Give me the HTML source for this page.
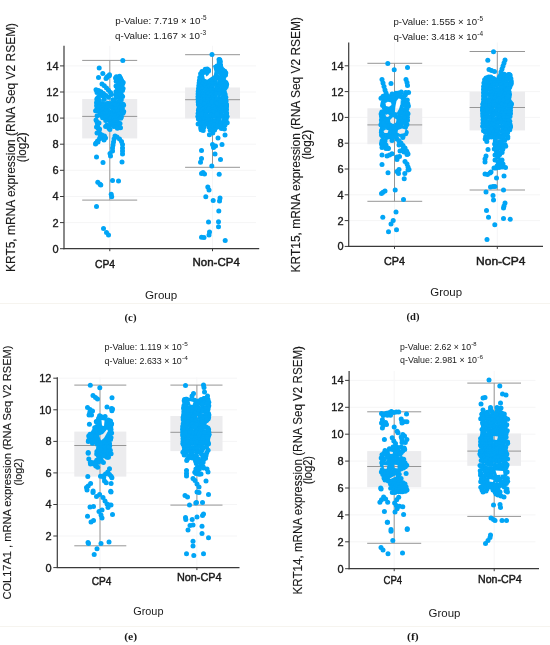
<!DOCTYPE html>
<html><head><meta charset="utf-8"><title>Box plots</title>
<style>html,body{margin:0;padding:0;background:#fff;}svg{display:block;}</style></head>
<body><svg width="550" height="645" viewBox="0 0 550 645">
<rect width="550" height="645" fill="#fff"/>
<line x1="0" y1="303.5" x2="550" y2="303.5" stroke="#f6f4ef" stroke-width="1"/>
<line x1="0" y1="626.5" x2="550" y2="626.5" stroke="#f6f4ef" stroke-width="1"/>
<line x1="65" y1="222.6" x2="256" y2="222.6" stroke="#f5f5f6" stroke-width="1"/>
<line x1="65" y1="196.5" x2="256" y2="196.5" stroke="#f5f5f6" stroke-width="1"/>
<line x1="65" y1="170.3" x2="256" y2="170.3" stroke="#f5f5f6" stroke-width="1"/>
<line x1="65" y1="144.2" x2="256" y2="144.2" stroke="#f5f5f6" stroke-width="1"/>
<line x1="65" y1="118.1" x2="256" y2="118.1" stroke="#f5f5f6" stroke-width="1"/>
<line x1="65" y1="92.0" x2="256" y2="92.0" stroke="#f5f5f6" stroke-width="1"/>
<line x1="65" y1="65.9" x2="256" y2="65.9" stroke="#f5f5f6" stroke-width="1"/>
<line x1="109.8" y1="45.8" x2="109.8" y2="248.7" stroke="#f6f6f7" stroke-width="1"/>
<line x1="212.5" y1="45.8" x2="212.5" y2="248.7" stroke="#f6f6f7" stroke-width="1"/>
<rect x="82.2" y="99.0" width="55.0" height="39.4" fill="#ececee"/>
<line x1="109.8" y1="60.4" x2="109.8" y2="200.1" stroke="#969696" stroke-width="1"/>
<line x1="82.2" y1="60.4" x2="137.2" y2="60.4" stroke="#969696" stroke-width="1"/>
<line x1="82.2" y1="116.4" x2="137.2" y2="116.4" stroke="#969696" stroke-width="1"/>
<line x1="82.2" y1="200.1" x2="137.2" y2="200.1" stroke="#969696" stroke-width="1"/>
<rect x="185.1" y="87.5" width="54.9" height="30.9" fill="#ececee"/>
<line x1="212.5" y1="54.7" x2="212.5" y2="167.3" stroke="#969696" stroke-width="1"/>
<line x1="185.1" y1="54.7" x2="240.0" y2="54.7" stroke="#969696" stroke-width="1"/>
<line x1="185.1" y1="99.7" x2="240.0" y2="99.7" stroke="#969696" stroke-width="1"/>
<line x1="185.1" y1="167.3" x2="240.0" y2="167.3" stroke="#969696" stroke-width="1"/>
<mask id="mc" maskUnits="userSpaceOnUse" x="0" y="0" width="550" height="645"><rect x="0" y="0" width="550" height="645" fill="#fff"/><path fill="#000" d="M204.0,75.0 L205.5,74.5 L206.5,76.8 L211.5,73.2 L210.8,67.2 L213.2,66.5 L214.5,71.5 L213.8,75.2 L207.2,79.8 L204.8,78.8Z"/></mask>
<g fill="#01a5f6" mask="url(#mc)"><circle cx="122.8" cy="60.5" r="2.5"/><circle cx="99.2" cy="68.0" r="2.5"/><circle cx="102.8" cy="73.5" r="2.5"/><circle cx="98.5" cy="77.5" r="2.5"/><circle cx="109.5" cy="74.8" r="2.5"/><circle cx="107.5" cy="76.5" r="2.5"/><circle cx="106.0" cy="78.5" r="2.5"/><circle cx="106.8" cy="77.5" r="2.5"/><circle cx="109.3" cy="75.8" r="2.5"/><circle cx="97.0" cy="122.0" r="2.5"/><circle cx="97.5" cy="125.0" r="2.5"/><circle cx="98.0" cy="128.0" r="2.5"/><circle cx="99.0" cy="131.0" r="2.5"/><circle cx="100.0" cy="134.0" r="2.5"/><circle cx="101.0" cy="136.5" r="2.5"/><circle cx="99.5" cy="139.0" r="2.5"/><circle cx="97.5" cy="141.0" r="2.5"/><circle cx="96.0" cy="143.0" r="2.5"/><circle cx="103.0" cy="137.0" r="2.5"/><circle cx="105.5" cy="138.0" r="2.5"/><circle cx="104.0" cy="140.0" r="2.5"/><circle cx="115.0" cy="136.0" r="2.5"/><circle cx="114.0" cy="139.0" r="2.5"/><circle cx="113.5" cy="142.0" r="2.5"/><circle cx="113.0" cy="145.0" r="2.5"/><circle cx="112.5" cy="148.0" r="2.5"/><circle cx="112.5" cy="151.0" r="2.5"/><circle cx="117.0" cy="137.0" r="2.5"/><circle cx="119.5" cy="139.0" r="2.5"/><circle cx="121.5" cy="141.5" r="2.5"/><circle cx="122.5" cy="144.5" r="2.5"/><circle cx="122.5" cy="148.0" r="2.5"/><circle cx="122.5" cy="151.0" r="2.5"/><circle cx="122.5" cy="154.0" r="2.5"/><circle cx="110.0" cy="153.5" r="2.5"/><circle cx="110.5" cy="156.0" r="2.5"/><circle cx="96.5" cy="157.0" r="2.5"/><circle cx="103.0" cy="162.5" r="2.5"/><circle cx="122.0" cy="162.0" r="2.5"/><circle cx="96.0" cy="120.0" r="2.5"/><circle cx="99.0" cy="123.0" r="2.5"/><circle cx="96.5" cy="127.0" r="2.5"/><circle cx="99.5" cy="129.0" r="2.5"/><circle cx="97.0" cy="133.0" r="2.5"/><circle cx="100.0" cy="137.5" r="2.5"/><circle cx="102.0" cy="135.0" r="2.5"/><circle cx="104.5" cy="136.0" r="2.5"/><circle cx="98.0" cy="142.0" r="2.5"/><circle cx="95.5" cy="144.0" r="2.5"/><circle cx="96.0" cy="89.8" r="2.5"/><circle cx="98.5" cy="90.5" r="2.5"/><circle cx="101.0" cy="91.8" r="2.5"/><circle cx="103.5" cy="93.5" r="2.5"/><circle cx="106.0" cy="95.5" r="2.5"/><circle cx="108.5" cy="97.2" r="2.5"/><circle cx="97.0" cy="92.5" r="2.5"/><circle cx="100.0" cy="94.0" r="2.5"/><circle cx="103.0" cy="96.0" r="2.5"/><circle cx="102.0" cy="84.0" r="2.5"/><circle cx="104.3" cy="85.8" r="2.5"/><circle cx="106.5" cy="88.0" r="2.5"/><circle cx="108.5" cy="90.2" r="2.5"/><circle cx="110.5" cy="92.5" r="2.5"/><circle cx="111.5" cy="94.5" r="2.5"/><circle cx="115.5" cy="78.0" r="2.5"/><circle cx="117.0" cy="81.0" r="2.5"/><circle cx="120.5" cy="78.0" r="2.5"/><circle cx="122.0" cy="81.5" r="2.5"/><circle cx="118.5" cy="84.5" r="2.5"/><circle cx="121.5" cy="86.0" r="2.5"/><circle cx="117.5" cy="88.5" r="2.5"/><circle cx="121.0" cy="90.5" r="2.5"/><circle cx="118.0" cy="93.0" r="2.5"/><circle cx="121.5" cy="95.0" r="2.5"/><circle cx="97.8" cy="182.2" r="2.5"/><circle cx="100.0" cy="184.2" r="2.5"/><circle cx="100.8" cy="185.0" r="2.5"/><circle cx="112.5" cy="180.5" r="2.5"/><circle cx="118.5" cy="181.0" r="2.5"/><circle cx="111.2" cy="194.2" r="2.5"/><circle cx="111.7" cy="196.8" r="2.5"/><circle cx="96.5" cy="206.5" r="2.5"/><circle cx="103.5" cy="228.5" r="2.5"/><circle cx="106.5" cy="232.5" r="2.5"/><circle cx="108.5" cy="235.0" r="2.5"/><circle cx="212.0" cy="54.5" r="2.5"/><circle cx="219.0" cy="59.5" r="2.5"/><circle cx="220.0" cy="62.0" r="2.5"/><circle cx="220.5" cy="65.0" r="2.5"/><circle cx="221.0" cy="67.5" r="2.5"/><circle cx="225.0" cy="135.0" r="2.5"/><circle cx="218.0" cy="138.0" r="2.5"/><circle cx="222.0" cy="144.5" r="2.5"/><circle cx="212.5" cy="144.5" r="2.5"/><circle cx="213.5" cy="147.5" r="2.5"/><circle cx="215.5" cy="146.0" r="2.5"/><circle cx="201.5" cy="150.5" r="2.5"/><circle cx="215.0" cy="154.0" r="2.5"/><circle cx="201.5" cy="158.5" r="2.5"/><circle cx="220.5" cy="159.5" r="2.5"/><circle cx="200.5" cy="162.2" r="2.5"/><circle cx="211.8" cy="166.0" r="2.5"/><circle cx="201.5" cy="173.5" r="2.5"/><circle cx="204.5" cy="174.0" r="2.5"/><circle cx="203.0" cy="172.5" r="2.5"/><circle cx="219.2" cy="174.2" r="2.5"/><circle cx="207.8" cy="187.0" r="2.5"/><circle cx="209.0" cy="190.0" r="2.5"/><circle cx="205.8" cy="196.8" r="2.5"/><circle cx="213.2" cy="200.5" r="2.5"/><circle cx="220.0" cy="198.0" r="2.5"/><circle cx="219.5" cy="201.0" r="2.5"/><circle cx="218.8" cy="211.0" r="2.5"/><circle cx="208.5" cy="222.0" r="2.5"/><circle cx="218.5" cy="221.8" r="2.5"/><circle cx="218.5" cy="226.8" r="2.5"/><circle cx="209.5" cy="232.0" r="2.5"/><circle cx="209.0" cy="235.0" r="2.5"/><circle cx="201.5" cy="237.2" r="2.5"/><circle cx="204.0" cy="237.5" r="2.5"/><circle cx="225.2" cy="240.5" r="2.5"/><circle cx="199.8" cy="77.4" r="2.5"/><circle cx="200.6" cy="73.7" r="2.5"/><circle cx="202.0" cy="71.4" r="2.5"/><circle cx="205.2" cy="69.3" r="2.5"/><circle cx="207.2" cy="68.9" r="2.5"/><circle cx="208.5" cy="70.0" r="2.5"/><circle cx="208.4" cy="71.3" r="2.5"/><circle cx="206.4" cy="73.4" r="2.5"/><circle cx="203.9" cy="75.8" r="2.5"/><circle cx="204.6" cy="78.9" r="2.5"/><circle cx="208.8" cy="79.6" r="2.5"/><circle cx="211.9" cy="78.0" r="2.5"/><circle cx="213.9" cy="76.5" r="2.5"/><circle cx="215.6" cy="73.1" r="2.5"/><circle cx="215.0" cy="68.9" r="2.5"/><circle cx="214.9" cy="67.5" r="2.5"/><circle cx="217.0" cy="66.0" r="2.5"/><circle cx="219.2" cy="61.9" r="2.5"/><circle cx="219.8" cy="59.8" r="2.5"/><circle cx="219.6" cy="60.0" r="2.5"/><circle cx="220.2" cy="61.4" r="2.5"/><circle cx="220.2" cy="65.2" r="2.5"/><circle cx="222.3" cy="69.6" r="2.5"/><circle cx="224.8" cy="71.2" r="2.5"/><circle cx="225.8" cy="73.0" r="2.5"/><circle cx="225.5" cy="75.0" r="2.5"/><circle cx="223.9" cy="76.9" r="2.5"/><circle cx="224.1" cy="81.0" r="2.5"/><circle cx="225.9" cy="82.6" r="2.5"/><circle cx="226.6" cy="84.3" r="2.5"/><circle cx="226.2" cy="86.6" r="2.5"/><circle cx="225.1" cy="88.0" r="2.5"/><circle cx="224.1" cy="91.8" r="2.5"/><circle cx="225.1" cy="94.3" r="2.5"/><circle cx="225.8" cy="97.2" r="2.5"/><circle cx="226.1" cy="100.9" r="2.5"/><circle cx="226.4" cy="104.4" r="2.5"/><circle cx="226.4" cy="104.5" r="2.5"/><circle cx="223.3" cy="104.5" r="2.5"/><circle cx="220.2" cy="104.5" r="2.5"/><circle cx="217.2" cy="104.5" r="2.5"/><circle cx="214.1" cy="104.5" r="2.5"/><circle cx="210.9" cy="104.5" r="2.5"/><circle cx="207.8" cy="104.5" r="2.5"/><circle cx="204.8" cy="104.5" r="2.5"/><circle cx="201.7" cy="104.5" r="2.5"/><circle cx="198.6" cy="104.5" r="2.5"/><circle cx="198.4" cy="104.6" r="2.5"/><circle cx="198.2" cy="101.9" r="2.5"/><circle cx="198.1" cy="99.2" r="2.5"/><circle cx="198.0" cy="96.7" r="2.5"/><circle cx="198.1" cy="94.1" r="2.5"/><circle cx="198.2" cy="91.4" r="2.5"/><circle cx="198.5" cy="88.7" r="2.5"/><circle cx="198.8" cy="85.7" r="2.5"/><circle cx="199.1" cy="82.9" r="2.5"/><circle cx="199.4" cy="80.4" r="2.5"/><circle cx="200.6" cy="106.0" r="2.5"/><circle cx="203.8" cy="106.0" r="2.5"/><circle cx="207.1" cy="106.0" r="2.5"/><circle cx="210.3" cy="106.0" r="2.5"/><circle cx="213.5" cy="106.0" r="2.5"/><circle cx="216.7" cy="106.0" r="2.5"/><circle cx="219.9" cy="106.0" r="2.5"/><circle cx="223.2" cy="106.0" r="2.5"/><circle cx="226.4" cy="106.0" r="2.5"/><circle cx="226.5" cy="106.1" r="2.5"/><circle cx="226.5" cy="109.4" r="2.5"/><circle cx="226.6" cy="112.9" r="2.5"/><circle cx="226.9" cy="116.4" r="2.5"/><circle cx="226.9" cy="116.5" r="2.5"/><circle cx="223.7" cy="116.5" r="2.5"/><circle cx="220.5" cy="116.5" r="2.5"/><circle cx="217.3" cy="116.5" r="2.5"/><circle cx="214.1" cy="116.5" r="2.5"/><circle cx="210.9" cy="116.5" r="2.5"/><circle cx="207.7" cy="116.5" r="2.5"/><circle cx="204.5" cy="116.5" r="2.5"/><circle cx="201.3" cy="116.5" r="2.5"/><circle cx="198.1" cy="116.5" r="2.5"/><circle cx="198.0" cy="116.5" r="2.5"/><circle cx="198.1" cy="113.6" r="2.5"/><circle cx="198.4" cy="110.6" r="2.5"/><circle cx="198.9" cy="108.5" r="2.5"/><circle cx="199.9" cy="106.2" r="2.5"/><circle cx="116.4" cy="76.8" r="2.5"/><circle cx="119.5" cy="76.2" r="2.5"/><circle cx="118.5" cy="78.6" r="2.5"/><circle cx="121.4" cy="80.0" r="2.5"/><circle cx="116.2" cy="81.2" r="2.5"/><circle cx="120.4" cy="82.3" r="2.5"/><circle cx="123.2" cy="82.5" r="2.5"/><circle cx="116.0" cy="85.9" r="2.5"/><circle cx="118.7" cy="84.9" r="2.5"/><circle cx="122.4" cy="84.2" r="2.5"/><circle cx="118.0" cy="87.0" r="2.5"/><circle cx="120.9" cy="87.4" r="2.5"/><circle cx="123.1" cy="88.5" r="2.5"/><circle cx="119.5" cy="90.0" r="2.5"/><circle cx="122.5" cy="90.4" r="2.5"/><circle cx="115.9" cy="91.7" r="2.5"/><circle cx="120.2" cy="91.8" r="2.5"/><circle cx="116.0" cy="94.9" r="2.5"/><circle cx="119.5" cy="94.9" r="2.5"/><circle cx="122.6" cy="96.5" r="2.5"/><circle cx="97.1" cy="98.4" r="2.5"/><circle cx="98.5" cy="97.0" r="2.5"/><circle cx="116.5" cy="97.6" r="2.5"/><circle cx="120.0" cy="98.4" r="2.5"/><circle cx="96.9" cy="99.8" r="2.5"/><circle cx="99.4" cy="100.6" r="2.5"/><circle cx="104.2" cy="99.6" r="2.5"/><circle cx="112.9" cy="99.7" r="2.5"/><circle cx="114.4" cy="100.5" r="2.5"/><circle cx="118.6" cy="101.6" r="2.5"/><circle cx="121.3" cy="99.8" r="2.5"/><circle cx="96.5" cy="102.8" r="2.5"/><circle cx="100.1" cy="104.1" r="2.5"/><circle cx="102.4" cy="103.6" r="2.5"/><circle cx="105.6" cy="104.2" r="2.5"/><circle cx="107.7" cy="103.2" r="2.5"/><circle cx="110.6" cy="103.4" r="2.5"/><circle cx="113.8" cy="103.4" r="2.5"/><circle cx="117.4" cy="103.3" r="2.5"/><circle cx="119.5" cy="103.0" r="2.5"/><circle cx="123.1" cy="104.2" r="2.5"/><circle cx="96.6" cy="105.7" r="2.5"/><circle cx="100.0" cy="105.0" r="2.5"/><circle cx="102.6" cy="106.0" r="2.5"/><circle cx="107.1" cy="106.5" r="2.5"/><circle cx="109.6" cy="106.1" r="2.5"/><circle cx="112.1" cy="105.2" r="2.5"/><circle cx="115.1" cy="105.0" r="2.5"/><circle cx="118.5" cy="105.3" r="2.5"/><circle cx="121.5" cy="105.5" r="2.5"/><circle cx="123.6" cy="105.3" r="2.5"/><circle cx="97.0" cy="108.7" r="2.5"/><circle cx="98.9" cy="107.3" r="2.5"/><circle cx="102.1" cy="108.3" r="2.5"/><circle cx="104.4" cy="109.3" r="2.5"/><circle cx="107.4" cy="107.6" r="2.5"/><circle cx="111.7" cy="107.6" r="2.5"/><circle cx="114.1" cy="109.0" r="2.5"/><circle cx="116.0" cy="108.5" r="2.5"/><circle cx="119.6" cy="108.1" r="2.5"/><circle cx="122.3" cy="108.3" r="2.5"/><circle cx="95.6" cy="110.8" r="2.5"/><circle cx="98.3" cy="110.9" r="2.5"/><circle cx="101.6" cy="111.2" r="2.5"/><circle cx="103.3" cy="110.1" r="2.5"/><circle cx="106.0" cy="110.8" r="2.5"/><circle cx="108.9" cy="111.3" r="2.5"/><circle cx="113.1" cy="111.1" r="2.5"/><circle cx="115.0" cy="111.4" r="2.5"/><circle cx="118.1" cy="111.4" r="2.5"/><circle cx="121.7" cy="111.5" r="2.5"/><circle cx="123.7" cy="111.5" r="2.5"/><circle cx="100.1" cy="112.9" r="2.5"/><circle cx="103.0" cy="113.3" r="2.5"/><circle cx="104.7" cy="113.8" r="2.5"/><circle cx="107.5" cy="113.1" r="2.5"/><circle cx="110.7" cy="113.8" r="2.5"/><circle cx="114.7" cy="114.5" r="2.5"/><circle cx="116.8" cy="114.7" r="2.5"/><circle cx="119.2" cy="113.8" r="2.5"/><circle cx="123.0" cy="113.2" r="2.5"/><circle cx="97.1" cy="115.8" r="2.5"/><circle cx="101.2" cy="115.6" r="2.5"/><circle cx="104.5" cy="117.2" r="2.5"/><circle cx="107.5" cy="116.1" r="2.5"/><circle cx="108.7" cy="116.3" r="2.5"/><circle cx="111.7" cy="115.3" r="2.5"/><circle cx="115.3" cy="116.0" r="2.5"/><circle cx="118.2" cy="116.8" r="2.5"/><circle cx="121.4" cy="116.7" r="2.5"/><circle cx="102.6" cy="117.7" r="2.5"/><circle cx="105.5" cy="117.9" r="2.5"/><circle cx="107.4" cy="119.7" r="2.5"/><circle cx="110.6" cy="118.3" r="2.5"/><circle cx="113.7" cy="118.2" r="2.5"/><circle cx="117.2" cy="119.8" r="2.5"/><circle cx="120.8" cy="118.3" r="2.5"/><circle cx="105.7" cy="120.6" r="2.5"/><circle cx="110.4" cy="121.7" r="2.5"/><circle cx="113.5" cy="121.5" r="2.5"/><circle cx="115.4" cy="120.5" r="2.5"/><circle cx="117.8" cy="122.4" r="2.5"/><circle cx="107.0" cy="125.1" r="2.5"/><circle cx="111.6" cy="123.7" r="2.5"/><circle cx="113.6" cy="124.9" r="2.5"/><circle cx="116.7" cy="124.6" r="2.5"/><circle cx="120.0" cy="123.5" r="2.5"/><circle cx="105.6" cy="126.4" r="2.5"/><circle cx="108.7" cy="126.8" r="2.5"/><circle cx="113.5" cy="126.6" r="2.5"/><circle cx="116.3" cy="126.7" r="2.5"/><circle cx="119.1" cy="126.7" r="2.5"/><circle cx="120.5" cy="127.7" r="2.5"/><circle cx="108.9" cy="128.2" r="2.5"/><circle cx="109.9" cy="129.5" r="2.5"/><circle cx="117.4" cy="128.2" r="2.5"/><circle cx="216.4" cy="66.8" r="2.5"/><circle cx="219.0" cy="64.8" r="2.5"/><circle cx="218.2" cy="69.2" r="2.5"/><circle cx="219.5" cy="69.3" r="2.5"/><circle cx="205.0" cy="71.0" r="2.5"/><circle cx="207.5" cy="70.9" r="2.5"/><circle cx="216.7" cy="71.8" r="2.5"/><circle cx="219.1" cy="70.9" r="2.5"/><circle cx="223.0" cy="70.2" r="2.5"/><circle cx="203.0" cy="73.4" r="2.5"/><circle cx="206.1" cy="72.7" r="2.5"/><circle cx="217.2" cy="72.6" r="2.5"/><circle cx="220.7" cy="73.5" r="2.5"/><circle cx="222.9" cy="74.6" r="2.5"/><circle cx="201.6" cy="76.7" r="2.5"/><circle cx="204.1" cy="75.3" r="2.5"/><circle cx="216.2" cy="77.3" r="2.5"/><circle cx="217.9" cy="76.9" r="2.5"/><circle cx="222.1" cy="76.5" r="2.5"/><circle cx="203.4" cy="78.7" r="2.5"/><circle cx="211.7" cy="79.4" r="2.5"/><circle cx="213.4" cy="78.8" r="2.5"/><circle cx="217.8" cy="77.9" r="2.5"/><circle cx="221.2" cy="77.9" r="2.5"/><circle cx="200.7" cy="81.9" r="2.5"/><circle cx="203.8" cy="81.1" r="2.5"/><circle cx="206.1" cy="82.5" r="2.5"/><circle cx="210.0" cy="81.0" r="2.5"/><circle cx="213.9" cy="81.8" r="2.5"/><circle cx="215.4" cy="81.7" r="2.5"/><circle cx="220.0" cy="81.0" r="2.5"/><circle cx="222.8" cy="80.4" r="2.5"/><circle cx="224.0" cy="82.2" r="2.5"/><circle cx="202.4" cy="84.3" r="2.5"/><circle cx="205.7" cy="85.2" r="2.5"/><circle cx="209.0" cy="85.1" r="2.5"/><circle cx="211.9" cy="83.4" r="2.5"/><circle cx="215.6" cy="83.8" r="2.5"/><circle cx="218.0" cy="84.8" r="2.5"/><circle cx="221.1" cy="83.7" r="2.5"/><circle cx="222.7" cy="83.7" r="2.5"/><circle cx="226.1" cy="84.8" r="2.5"/><circle cx="200.4" cy="86.7" r="2.5"/><circle cx="203.9" cy="87.6" r="2.5"/><circle cx="207.6" cy="87.3" r="2.5"/><circle cx="209.9" cy="86.1" r="2.5"/><circle cx="212.2" cy="87.1" r="2.5"/><circle cx="216.6" cy="85.7" r="2.5"/><circle cx="218.6" cy="86.8" r="2.5"/><circle cx="223.0" cy="86.3" r="2.5"/><circle cx="225.5" cy="85.9" r="2.5"/><circle cx="199.0" cy="88.7" r="2.5"/><circle cx="202.0" cy="88.7" r="2.5"/><circle cx="205.9" cy="89.4" r="2.5"/><circle cx="208.7" cy="90.4" r="2.5"/><circle cx="211.2" cy="89.4" r="2.5"/><circle cx="214.6" cy="89.8" r="2.5"/><circle cx="217.2" cy="88.7" r="2.5"/><circle cx="220.9" cy="89.7" r="2.5"/><circle cx="223.5" cy="88.9" r="2.5"/><circle cx="202.0" cy="92.3" r="2.5"/><circle cx="203.5" cy="92.9" r="2.5"/><circle cx="207.4" cy="92.4" r="2.5"/><circle cx="210.1" cy="93.0" r="2.5"/><circle cx="212.6" cy="92.9" r="2.5"/><circle cx="216.3" cy="92.8" r="2.5"/><circle cx="219.1" cy="91.2" r="2.5"/><circle cx="222.5" cy="91.2" r="2.5"/><circle cx="224.0" cy="91.5" r="2.5"/><circle cx="199.9" cy="93.5" r="2.5"/><circle cx="203.2" cy="93.8" r="2.5"/><circle cx="205.0" cy="94.6" r="2.5"/><circle cx="208.2" cy="94.0" r="2.5"/><circle cx="211.3" cy="95.0" r="2.5"/><circle cx="215.4" cy="94.5" r="2.5"/><circle cx="216.5" cy="93.6" r="2.5"/><circle cx="219.5" cy="93.7" r="2.5"/><circle cx="223.4" cy="94.4" r="2.5"/><circle cx="198.8" cy="97.3" r="2.5"/><circle cx="200.0" cy="96.5" r="2.5"/><circle cx="203.0" cy="97.2" r="2.5"/><circle cx="207.4" cy="97.0" r="2.5"/><circle cx="208.9" cy="97.6" r="2.5"/><circle cx="213.1" cy="96.7" r="2.5"/><circle cx="215.0" cy="97.6" r="2.5"/><circle cx="218.9" cy="98.2" r="2.5"/><circle cx="222.4" cy="97.7" r="2.5"/><circle cx="225.6" cy="97.9" r="2.5"/><circle cx="198.7" cy="99.3" r="2.5"/><circle cx="201.7" cy="99.2" r="2.5"/><circle cx="204.5" cy="99.4" r="2.5"/><circle cx="207.5" cy="99.6" r="2.5"/><circle cx="211.8" cy="99.3" r="2.5"/><circle cx="213.4" cy="99.7" r="2.5"/><circle cx="217.0" cy="99.0" r="2.5"/><circle cx="220.0" cy="100.5" r="2.5"/><circle cx="222.8" cy="99.2" r="2.5"/><circle cx="201.9" cy="101.6" r="2.5"/><circle cx="204.8" cy="102.0" r="2.5"/><circle cx="207.8" cy="101.4" r="2.5"/><circle cx="210.2" cy="102.3" r="2.5"/><circle cx="212.0" cy="102.0" r="2.5"/><circle cx="216.0" cy="103.3" r="2.5"/><circle cx="218.1" cy="102.5" r="2.5"/><circle cx="221.2" cy="101.3" r="2.5"/><circle cx="224.9" cy="101.6" r="2.5"/><circle cx="204.4" cy="104.0" r="2.5"/><circle cx="216.6" cy="104.0" r="2.5"/><circle cx="201.3" cy="107.9" r="2.5"/><circle cx="205.0" cy="106.7" r="2.5"/><circle cx="206.3" cy="108.0" r="2.5"/><circle cx="210.2" cy="106.5" r="2.5"/><circle cx="213.4" cy="106.8" r="2.5"/><circle cx="216.4" cy="107.9" r="2.5"/><circle cx="219.4" cy="108.2" r="2.5"/><circle cx="221.4" cy="107.8" r="2.5"/><circle cx="226.0" cy="107.6" r="2.5"/><circle cx="199.0" cy="109.2" r="2.5"/><circle cx="203.0" cy="109.3" r="2.5"/><circle cx="206.4" cy="109.7" r="2.5"/><circle cx="208.8" cy="109.0" r="2.5"/><circle cx="211.7" cy="110.1" r="2.5"/><circle cx="214.9" cy="108.9" r="2.5"/><circle cx="218.3" cy="109.4" r="2.5"/><circle cx="220.1" cy="110.7" r="2.5"/><circle cx="223.4" cy="108.9" r="2.5"/><circle cx="225.7" cy="110.6" r="2.5"/><circle cx="201.2" cy="112.2" r="2.5"/><circle cx="204.0" cy="112.8" r="2.5"/><circle cx="206.8" cy="111.5" r="2.5"/><circle cx="210.8" cy="112.7" r="2.5"/><circle cx="213.6" cy="111.7" r="2.5"/><circle cx="216.8" cy="112.5" r="2.5"/><circle cx="218.8" cy="113.3" r="2.5"/><circle cx="221.3" cy="113.1" r="2.5"/><circle cx="225.3" cy="111.6" r="2.5"/><circle cx="198.9" cy="115.2" r="2.5"/><circle cx="202.1" cy="113.9" r="2.5"/><circle cx="206.1" cy="114.5" r="2.5"/><circle cx="207.9" cy="115.8" r="2.5"/><circle cx="211.4" cy="115.1" r="2.5"/><circle cx="214.0" cy="115.4" r="2.5"/><circle cx="217.2" cy="114.0" r="2.5"/><circle cx="221.5" cy="115.4" r="2.5"/><circle cx="222.4" cy="115.5" r="2.5"/><circle cx="226.4" cy="114.1" r="2.5"/><circle cx="198.4" cy="119.0" r="2.5"/><circle cx="201.6" cy="119.5" r="2.5"/><circle cx="204.2" cy="119.5" r="2.5"/><circle cx="208.1" cy="119.4" r="2.5"/><circle cx="209.5" cy="119.9" r="2.5"/><circle cx="212.4" cy="120.5" r="2.5"/><circle cx="216.8" cy="119.8" r="2.5"/><circle cx="218.8" cy="119.6" r="2.5"/><circle cx="223.7" cy="120.2" r="2.5"/><circle cx="226.1" cy="119.6" r="2.5"/><circle cx="200.2" cy="121.3" r="2.5"/><circle cx="201.7" cy="122.7" r="2.5"/><circle cx="205.8" cy="122.3" r="2.5"/><circle cx="209.9" cy="122.9" r="2.5"/><circle cx="211.6" cy="123.4" r="2.5"/><circle cx="214.5" cy="121.4" r="2.5"/><circle cx="218.0" cy="122.8" r="2.5"/><circle cx="221.0" cy="123.1" r="2.5"/><circle cx="224.8" cy="122.1" r="2.5"/><circle cx="227.2" cy="122.7" r="2.5"/><circle cx="198.1" cy="123.9" r="2.5"/><circle cx="200.5" cy="124.2" r="2.5"/><circle cx="203.5" cy="124.7" r="2.5"/><circle cx="207.0" cy="124.3" r="2.5"/><circle cx="209.5" cy="125.7" r="2.5"/><circle cx="214.4" cy="125.1" r="2.5"/><circle cx="217.8" cy="126.2" r="2.5"/><circle cx="220.9" cy="125.7" r="2.5"/><circle cx="223.6" cy="125.3" r="2.5"/><circle cx="225.0" cy="125.0" r="2.5"/><circle cx="200.7" cy="127.7" r="2.5"/><circle cx="203.8" cy="127.2" r="2.5"/><circle cx="209.0" cy="127.0" r="2.5"/><circle cx="212.7" cy="127.2" r="2.5"/><circle cx="216.2" cy="127.2" r="2.5"/><circle cx="217.4" cy="127.0" r="2.5"/><circle cx="221.4" cy="128.5" r="2.5"/><circle cx="224.4" cy="128.9" r="2.5"/><circle cx="201.1" cy="129.7" r="2.5"/><circle cx="203.2" cy="130.4" r="2.5"/><circle cx="210.2" cy="130.2" r="2.5"/><circle cx="214.6" cy="129.9" r="2.5"/><circle cx="212.8" cy="132.9" r="2.5"/><circle cx="209.4" cy="134.7" r="2.5"/></g>
<line x1="64" y1="45.8" x2="64" y2="249.2" stroke="#3a3a3a" stroke-width="1.2"/>
<line x1="63.4" y1="248.7" x2="259.2" y2="248.7" stroke="#3a3a3a" stroke-width="1.2"/>
<line x1="60" y1="248.7" x2="64" y2="248.7" stroke="#3a3a3a" stroke-width="1"/>
<text x="58.6" y="252.6" font-family="Liberation Sans, sans-serif" font-size="11" font-weight="normal" text-anchor="end" fill="#1a1a1a" stroke="#1a1a1a" stroke-width="0.35">0</text>
<line x1="60" y1="222.6" x2="64" y2="222.6" stroke="#3a3a3a" stroke-width="1"/>
<text x="58.6" y="226.5" font-family="Liberation Sans, sans-serif" font-size="11" font-weight="normal" text-anchor="end" fill="#1a1a1a" stroke="#1a1a1a" stroke-width="0.35">2</text>
<line x1="60" y1="196.5" x2="64" y2="196.5" stroke="#3a3a3a" stroke-width="1"/>
<text x="58.6" y="200.4" font-family="Liberation Sans, sans-serif" font-size="11" font-weight="normal" text-anchor="end" fill="#1a1a1a" stroke="#1a1a1a" stroke-width="0.35">4</text>
<line x1="60" y1="170.3" x2="64" y2="170.3" stroke="#3a3a3a" stroke-width="1"/>
<text x="58.6" y="174.2" font-family="Liberation Sans, sans-serif" font-size="11" font-weight="normal" text-anchor="end" fill="#1a1a1a" stroke="#1a1a1a" stroke-width="0.35">6</text>
<line x1="60" y1="144.2" x2="64" y2="144.2" stroke="#3a3a3a" stroke-width="1"/>
<text x="58.6" y="148.1" font-family="Liberation Sans, sans-serif" font-size="11" font-weight="normal" text-anchor="end" fill="#1a1a1a" stroke="#1a1a1a" stroke-width="0.35">8</text>
<line x1="60" y1="118.1" x2="64" y2="118.1" stroke="#3a3a3a" stroke-width="1"/>
<text x="58.6" y="122.0" font-family="Liberation Sans, sans-serif" font-size="11" font-weight="normal" text-anchor="end" fill="#1a1a1a" stroke="#1a1a1a" stroke-width="0.35">10</text>
<line x1="60" y1="92.0" x2="64" y2="92.0" stroke="#3a3a3a" stroke-width="1"/>
<text x="58.6" y="95.9" font-family="Liberation Sans, sans-serif" font-size="11" font-weight="normal" text-anchor="end" fill="#1a1a1a" stroke="#1a1a1a" stroke-width="0.35">12</text>
<line x1="60" y1="65.9" x2="64" y2="65.9" stroke="#3a3a3a" stroke-width="1"/>
<text x="58.6" y="69.8" font-family="Liberation Sans, sans-serif" font-size="11" font-weight="normal" text-anchor="end" fill="#1a1a1a" stroke="#1a1a1a" stroke-width="0.35">14</text>
<line x1="109.8" y1="248.7" x2="109.8" y2="251.2" stroke="#3a3a3a" stroke-width="1"/>
<line x1="212.5" y1="248.7" x2="212.5" y2="251.2" stroke="#3a3a3a" stroke-width="1"/>
<text x="95.0" y="267.5" font-family="Liberation Sans, sans-serif" font-size="11.3" font-weight="normal" text-anchor="start" fill="#1a1a1a" textLength="20.1" lengthAdjust="spacingAndGlyphs" stroke="#1a1a1a" stroke-width="0.45">CP4</text>
<text x="192.5" y="265.5" font-family="Liberation Sans, sans-serif" font-size="11.3" font-weight="normal" text-anchor="start" fill="#1a1a1a" textLength="47.3" lengthAdjust="spacingAndGlyphs" stroke="#1a1a1a" stroke-width="0.45">Non-CP4</text>
<text x="145.0" y="298.8" font-family="Liberation Sans, sans-serif" font-size="11.5" font-weight="normal" text-anchor="start" fill="#1a1a1a" textLength="32.3" lengthAdjust="spacingAndGlyphs">Group</text>
<text x="124.5" y="321.0" font-family="Liberation Serif, sans-serif" font-size="10.5" font-weight="bold" text-anchor="start" fill="#1a1a1a" textLength="12.0" lengthAdjust="spacingAndGlyphs">(c)</text>
<text x="115.3" y="24.1" font-family="Liberation Sans, sans-serif" font-size="9" font-weight="normal" text-anchor="start" fill="#1a1a1a" textLength="85.2" lengthAdjust="spacingAndGlyphs">p-Value: 7.719 × 10</text>
<text x="200.8" y="20.1" font-family="Liberation Sans, sans-serif" font-size="6.3" font-weight="normal" text-anchor="start" fill="#1a1a1a" textLength="5.7" lengthAdjust="spacingAndGlyphs">-5</text>
<text x="115.0" y="38.6" font-family="Liberation Sans, sans-serif" font-size="9" font-weight="normal" text-anchor="start" fill="#1a1a1a" textLength="85.0" lengthAdjust="spacingAndGlyphs">q-Value: 1.167 × 10</text>
<text x="200.3" y="34.6" font-family="Liberation Sans, sans-serif" font-size="6.3" font-weight="normal" text-anchor="start" fill="#1a1a1a" textLength="5.8" lengthAdjust="spacingAndGlyphs">-3</text>
<text transform="translate(14.7,272) rotate(-90)" x="0" y="0" font-family="Liberation Sans, sans-serif" font-size="12" fill="#1a1a1a" stroke="#1a1a1a" stroke-width="0.15" textLength="249.1" lengthAdjust="spacingAndGlyphs">KRT5, mRNA expression (RNA Seq V2 RSEM)</text>
<text transform="translate(26,162.2) rotate(-90)" x="0" y="0" font-family="Liberation Sans, sans-serif" font-size="12" fill="#1a1a1a" stroke="#1a1a1a" stroke-width="0.15" textLength="29.8" lengthAdjust="spacingAndGlyphs">(log2)</text>
<line x1="349.7" y1="220.6" x2="540" y2="220.6" stroke="#f5f5f6" stroke-width="1"/>
<line x1="349.7" y1="194.8" x2="540" y2="194.8" stroke="#f5f5f6" stroke-width="1"/>
<line x1="349.7" y1="169.0" x2="540" y2="169.0" stroke="#f5f5f6" stroke-width="1"/>
<line x1="349.7" y1="143.2" x2="540" y2="143.2" stroke="#f5f5f6" stroke-width="1"/>
<line x1="349.7" y1="117.4" x2="540" y2="117.4" stroke="#f5f5f6" stroke-width="1"/>
<line x1="349.7" y1="91.6" x2="540" y2="91.6" stroke="#f5f5f6" stroke-width="1"/>
<line x1="349.7" y1="65.8" x2="540" y2="65.8" stroke="#f5f5f6" stroke-width="1"/>
<line x1="394.5" y1="42.4" x2="394.5" y2="246.4" stroke="#f6f6f7" stroke-width="1"/>
<line x1="497.3" y1="42.4" x2="497.3" y2="246.4" stroke="#f6f6f7" stroke-width="1"/>
<rect x="367.4" y="108.3" width="54.8" height="35.9" fill="#ececee"/>
<line x1="394.5" y1="63.3" x2="394.5" y2="201.3" stroke="#969696" stroke-width="1"/>
<line x1="367.4" y1="63.3" x2="422.2" y2="63.3" stroke="#969696" stroke-width="1"/>
<line x1="367.4" y1="124.9" x2="422.2" y2="124.9" stroke="#969696" stroke-width="1"/>
<line x1="367.4" y1="201.3" x2="422.2" y2="201.3" stroke="#969696" stroke-width="1"/>
<rect x="469.6" y="91.8" width="55.4" height="38.6" fill="#ececee"/>
<line x1="497.3" y1="51.5" x2="497.3" y2="190.0" stroke="#969696" stroke-width="1"/>
<line x1="469.6" y1="51.5" x2="525.0" y2="51.5" stroke="#969696" stroke-width="1"/>
<line x1="469.6" y1="107.5" x2="525.0" y2="107.5" stroke="#969696" stroke-width="1"/>
<line x1="469.6" y1="190.0" x2="525.0" y2="190.0" stroke="#969696" stroke-width="1"/>
<mask id="md" maskUnits="userSpaceOnUse" x="0" y="0" width="550" height="645"><rect x="0" y="0" width="550" height="645" fill="#fff"/><path fill="#000" d="M394.8,112.0 L395.5,106.0 L396.5,101.0 L398.5,98.5 L400.8,99.0 L400.5,104.0 L399.0,109.0 L397.0,112.5Z"/><path fill="#000" d="M385.5,103.0 L388.0,101.8 L391.0,102.5 L391.5,105.0 L389.0,106.8 L386.0,106.0Z"/><path fill="#000" d="M390.0,120.0 L393.0,117.0 L396.5,119.5 L396.0,122.5 L393.0,124.0 L390.5,122.5Z"/><path fill="#000" d="M385.7,115.0 L388.0,114.0 L389.5,115.5 L388.0,117.0 L386.0,116.5Z"/><path fill="#000" d="M383.5,131.0 L386.0,129.5 L388.5,130.5 L387.5,133.0 L384.5,133.0Z"/><path fill="#000" d="M398.0,130.0 L402.0,128.5 L405.5,129.5 L404.5,133.0 L400.0,134.0 L397.5,132.5Z"/></mask>
<g fill="#01a5f6" mask="url(#md)"><circle cx="387.8" cy="63.5" r="2.5"/><circle cx="394.2" cy="69.8" r="2.5"/><circle cx="407.5" cy="67.5" r="2.5"/><circle cx="382.0" cy="79.5" r="2.5"/><circle cx="383.0" cy="83.0" r="2.5"/><circle cx="384.0" cy="86.5" r="2.5"/><circle cx="385.0" cy="90.0" r="2.5"/><circle cx="386.0" cy="93.0" r="2.5"/><circle cx="391.0" cy="83.5" r="2.5"/><circle cx="406.0" cy="79.5" r="2.5"/><circle cx="407.0" cy="82.5" r="2.5"/><circle cx="407.5" cy="85.5" r="2.5"/><circle cx="382.0" cy="141.0" r="2.5"/><circle cx="385.0" cy="141.0" r="2.5"/><circle cx="381.5" cy="144.0" r="2.5"/><circle cx="384.5" cy="144.5" r="2.5"/><circle cx="382.0" cy="147.5" r="2.5"/><circle cx="386.0" cy="148.5" r="2.5"/><circle cx="388.4" cy="148.6" r="2.5"/><circle cx="392.0" cy="140.5" r="2.5"/><circle cx="397.0" cy="139.0" r="2.5"/><circle cx="399.0" cy="141.0" r="2.5"/><circle cx="401.0" cy="143.0" r="2.5"/><circle cx="403.0" cy="145.5" r="2.5"/><circle cx="405.0" cy="148.0" r="2.5"/><circle cx="406.5" cy="151.0" r="2.5"/><circle cx="408.0" cy="154.0" r="2.5"/><circle cx="400.0" cy="144.0" r="2.5"/><circle cx="382.0" cy="142.5" r="2.5"/><circle cx="386.0" cy="145.0" r="2.5"/><circle cx="388.0" cy="148.0" r="2.5"/><circle cx="399.0" cy="145.0" r="2.5"/><circle cx="403.0" cy="149.0" r="2.5"/><circle cx="400.0" cy="151.0" r="2.5"/><circle cx="404.0" cy="152.0" r="2.5"/><circle cx="407.0" cy="152.0" r="2.5"/><circle cx="407.0" cy="154.5" r="2.5"/><circle cx="382.0" cy="155.0" r="2.5"/><circle cx="387.0" cy="156.0" r="2.5"/><circle cx="389.5" cy="155.0" r="2.5"/><circle cx="392.0" cy="153.8" r="2.5"/><circle cx="397.0" cy="157.0" r="2.5"/><circle cx="399.5" cy="156.5" r="2.5"/><circle cx="397.0" cy="159.5" r="2.5"/><circle cx="405.0" cy="161.5" r="2.5"/><circle cx="407.0" cy="164.0" r="2.5"/><circle cx="408.0" cy="167.0" r="2.5"/><circle cx="409.0" cy="169.5" r="2.5"/><circle cx="382.0" cy="164.5" r="2.5"/><circle cx="399.0" cy="169.5" r="2.5"/><circle cx="388.0" cy="172.8" r="2.5"/><circle cx="397.0" cy="171.5" r="2.5"/><circle cx="398.5" cy="173.5" r="2.5"/><circle cx="404.8" cy="173.5" r="2.5"/><circle cx="404.2" cy="178.8" r="2.5"/><circle cx="408.0" cy="170.0" r="2.5"/><circle cx="385.0" cy="191.0" r="2.5"/><circle cx="381.5" cy="193.5" r="2.5"/><circle cx="383.0" cy="192.2" r="2.5"/><circle cx="395.2" cy="190.0" r="2.5"/><circle cx="403.5" cy="199.5" r="2.5"/><circle cx="396.0" cy="212.0" r="2.5"/><circle cx="382.8" cy="217.2" r="2.5"/><circle cx="393.2" cy="220.5" r="2.5"/><circle cx="391.0" cy="224.0" r="2.5"/><circle cx="388.5" cy="231.8" r="2.5"/><circle cx="396.5" cy="229.8" r="2.5"/><circle cx="493.5" cy="51.8" r="2.5"/><circle cx="487.8" cy="60.2" r="2.5"/><circle cx="505.0" cy="60.0" r="2.5"/><circle cx="504.0" cy="63.0" r="2.5"/><circle cx="503.0" cy="66.0" r="2.5"/><circle cx="502.0" cy="69.0" r="2.5"/><circle cx="501.0" cy="72.0" r="2.5"/><circle cx="489.0" cy="69.5" r="2.5"/><circle cx="491.5" cy="70.5" r="2.5"/><circle cx="494.5" cy="71.5" r="2.5"/><circle cx="509.0" cy="74.5" r="2.5"/><circle cx="510.0" cy="75.0" r="2.5"/><circle cx="488.0" cy="149.5" r="2.5"/><circle cx="486.0" cy="156.0" r="2.5"/><circle cx="495.0" cy="155.0" r="2.5"/><circle cx="498.0" cy="156.0" r="2.5"/><circle cx="485.0" cy="159.0" r="2.5"/><circle cx="485.0" cy="162.0" r="2.5"/><circle cx="495.0" cy="160.0" r="2.5"/><circle cx="498.0" cy="162.0" r="2.5"/><circle cx="500.0" cy="161.0" r="2.5"/><circle cx="502.0" cy="160.0" r="2.5"/><circle cx="503.0" cy="164.0" r="2.5"/><circle cx="500.0" cy="165.0" r="2.5"/><circle cx="497.0" cy="166.0" r="2.5"/><circle cx="494.0" cy="168.0" r="2.5"/><circle cx="496.0" cy="168.0" r="2.5"/><circle cx="499.0" cy="167.5" r="2.5"/><circle cx="502.0" cy="167.0" r="2.5"/><circle cx="505.5" cy="167.5" r="2.5"/><circle cx="485.0" cy="174.0" r="2.5"/><circle cx="487.5" cy="174.5" r="2.5"/><circle cx="490.0" cy="173.0" r="2.5"/><circle cx="491.0" cy="172.0" r="2.5"/><circle cx="496.5" cy="178.0" r="2.5"/><circle cx="504.0" cy="176.0" r="2.5"/><circle cx="490.5" cy="187.0" r="2.5"/><circle cx="493.0" cy="186.5" r="2.5"/><circle cx="495.0" cy="186.5" r="2.5"/><circle cx="486.0" cy="192.0" r="2.5"/><circle cx="503.5" cy="190.0" r="2.5"/><circle cx="493.0" cy="195.5" r="2.5"/><circle cx="493.5" cy="200.0" r="2.5"/><circle cx="505.0" cy="203.0" r="2.5"/><circle cx="504.0" cy="206.0" r="2.5"/><circle cx="503.5" cy="208.0" r="2.5"/><circle cx="486.5" cy="210.5" r="2.5"/><circle cx="488.5" cy="217.2" r="2.5"/><circle cx="503.5" cy="218.5" r="2.5"/><circle cx="510.2" cy="219.2" r="2.5"/><circle cx="494.8" cy="224.8" r="2.5"/><circle cx="487.0" cy="239.5" r="2.5"/><circle cx="483.5" cy="102.4" r="2.5"/><circle cx="483.5" cy="99.2" r="2.5"/><circle cx="483.5" cy="96.0" r="2.5"/><circle cx="483.5" cy="92.8" r="2.5"/><circle cx="483.5" cy="89.6" r="2.5"/><circle cx="483.6" cy="86.4" r="2.5"/><circle cx="483.9" cy="82.9" r="2.5"/><circle cx="484.6" cy="79.8" r="2.5"/><circle cx="486.0" cy="78.0" r="2.5"/><circle cx="488.7" cy="76.9" r="2.5"/><circle cx="490.8" cy="77.1" r="2.5"/><circle cx="493.5" cy="78.5" r="2.5"/><circle cx="495.4" cy="79.7" r="2.5"/><circle cx="499.2" cy="77.2" r="2.5"/><circle cx="500.5" cy="75.0" r="2.5"/><circle cx="502.7" cy="74.2" r="2.5"/><circle cx="504.3" cy="74.3" r="2.5"/><circle cx="508.2" cy="74.7" r="2.5"/><circle cx="509.8" cy="75.3" r="2.5"/><circle cx="510.8" cy="78.2" r="2.5"/><circle cx="511.3" cy="81.7" r="2.5"/><circle cx="511.1" cy="84.0" r="2.5"/><circle cx="509.7" cy="87.3" r="2.5"/><circle cx="509.1" cy="92.0" r="2.5"/><circle cx="509.5" cy="94.5" r="2.5"/><circle cx="509.1" cy="97.0" r="2.5"/><circle cx="509.1" cy="100.8" r="2.5"/><circle cx="510.1" cy="103.3" r="2.5"/><circle cx="510.3" cy="102.5" r="2.5"/><circle cx="507.0" cy="102.5" r="2.5"/><circle cx="503.7" cy="102.5" r="2.5"/><circle cx="500.3" cy="102.5" r="2.5"/><circle cx="497.0" cy="102.5" r="2.5"/><circle cx="493.7" cy="102.5" r="2.5"/><circle cx="490.3" cy="102.5" r="2.5"/><circle cx="487.0" cy="102.5" r="2.5"/><circle cx="483.7" cy="102.5" r="2.5"/><circle cx="483.1" cy="104.0" r="2.5"/><circle cx="486.2" cy="104.0" r="2.5"/><circle cx="489.4" cy="104.0" r="2.5"/><circle cx="492.5" cy="104.0" r="2.5"/><circle cx="495.7" cy="104.0" r="2.5"/><circle cx="498.8" cy="104.0" r="2.5"/><circle cx="502.0" cy="104.0" r="2.5"/><circle cx="505.1" cy="104.0" r="2.5"/><circle cx="508.3" cy="104.0" r="2.5"/><circle cx="511.4" cy="104.0" r="2.5"/><circle cx="511.3" cy="103.9" r="2.5"/><circle cx="510.8" cy="107.1" r="2.5"/><circle cx="510.5" cy="110.5" r="2.5"/><circle cx="510.5" cy="113.5" r="2.5"/><circle cx="510.0" cy="116.6" r="2.5"/><circle cx="509.8" cy="121.2" r="2.5"/><circle cx="510.1" cy="124.4" r="2.5"/><circle cx="510.4" cy="126.9" r="2.5"/><circle cx="510.5" cy="126.5" r="2.5"/><circle cx="507.4" cy="126.5" r="2.5"/><circle cx="504.4" cy="126.5" r="2.5"/><circle cx="501.3" cy="126.5" r="2.5"/><circle cx="498.3" cy="126.5" r="2.5"/><circle cx="495.2" cy="126.5" r="2.5"/><circle cx="492.2" cy="126.5" r="2.5"/><circle cx="489.1" cy="126.5" r="2.5"/><circle cx="486.1" cy="126.5" r="2.5"/><circle cx="483.0" cy="126.5" r="2.5"/><circle cx="483.0" cy="126.3" r="2.5"/><circle cx="483.0" cy="123.0" r="2.5"/><circle cx="483.0" cy="119.7" r="2.5"/><circle cx="482.9" cy="116.4" r="2.5"/><circle cx="482.7" cy="113.4" r="2.5"/><circle cx="482.6" cy="110.4" r="2.5"/><circle cx="482.6" cy="107.5" r="2.5"/><circle cx="482.9" cy="104.2" r="2.5"/><circle cx="392.1" cy="94.1" r="2.5"/><circle cx="395.9" cy="93.2" r="2.5"/><circle cx="398.6" cy="93.1" r="2.5"/><circle cx="401.3" cy="92.1" r="2.5"/><circle cx="405.8" cy="92.5" r="2.5"/><circle cx="408.6" cy="92.4" r="2.5"/><circle cx="383.1" cy="96.3" r="2.5"/><circle cx="385.7" cy="96.2" r="2.5"/><circle cx="387.6" cy="95.7" r="2.5"/><circle cx="392.2" cy="95.0" r="2.5"/><circle cx="395.5" cy="96.6" r="2.5"/><circle cx="397.3" cy="95.4" r="2.5"/><circle cx="400.4" cy="95.5" r="2.5"/><circle cx="404.6" cy="95.5" r="2.5"/><circle cx="405.4" cy="94.8" r="2.5"/><circle cx="381.0" cy="98.3" r="2.5"/><circle cx="384.1" cy="98.9" r="2.5"/><circle cx="386.4" cy="98.6" r="2.5"/><circle cx="390.1" cy="98.6" r="2.5"/><circle cx="392.3" cy="97.6" r="2.5"/><circle cx="395.7" cy="99.3" r="2.5"/><circle cx="398.7" cy="98.6" r="2.5"/><circle cx="401.6" cy="97.4" r="2.5"/><circle cx="404.0" cy="99.0" r="2.5"/><circle cx="383.4" cy="102.0" r="2.5"/><circle cx="385.3" cy="102.1" r="2.5"/><circle cx="389.6" cy="101.1" r="2.5"/><circle cx="392.4" cy="100.9" r="2.5"/><circle cx="394.2" cy="100.4" r="2.5"/><circle cx="398.4" cy="100.2" r="2.5"/><circle cx="399.5" cy="101.6" r="2.5"/><circle cx="404.1" cy="100.9" r="2.5"/><circle cx="407.3" cy="99.9" r="2.5"/><circle cx="383.0" cy="103.2" r="2.5"/><circle cx="387.9" cy="104.7" r="2.5"/><circle cx="390.6" cy="103.5" r="2.5"/><circle cx="392.4" cy="104.6" r="2.5"/><circle cx="396.1" cy="104.1" r="2.5"/><circle cx="397.9" cy="102.9" r="2.5"/><circle cx="402.8" cy="104.2" r="2.5"/><circle cx="405.9" cy="103.8" r="2.5"/><circle cx="407.8" cy="103.7" r="2.5"/><circle cx="382.6" cy="105.6" r="2.5"/><circle cx="386.1" cy="105.0" r="2.5"/><circle cx="388.9" cy="107.2" r="2.5"/><circle cx="390.4" cy="106.4" r="2.5"/><circle cx="394.8" cy="107.0" r="2.5"/><circle cx="397.7" cy="105.6" r="2.5"/><circle cx="400.3" cy="107.2" r="2.5"/><circle cx="404.4" cy="105.3" r="2.5"/><circle cx="405.6" cy="105.2" r="2.5"/><circle cx="408.4" cy="106.0" r="2.5"/><circle cx="384.4" cy="107.9" r="2.5"/><circle cx="387.1" cy="108.4" r="2.5"/><circle cx="390.0" cy="108.1" r="2.5"/><circle cx="392.2" cy="108.0" r="2.5"/><circle cx="395.7" cy="109.2" r="2.5"/><circle cx="399.1" cy="107.7" r="2.5"/><circle cx="402.5" cy="109.6" r="2.5"/><circle cx="405.6" cy="109.4" r="2.5"/><circle cx="406.9" cy="108.7" r="2.5"/><circle cx="381.8" cy="111.9" r="2.5"/><circle cx="384.9" cy="111.8" r="2.5"/><circle cx="388.1" cy="110.3" r="2.5"/><circle cx="391.2" cy="110.9" r="2.5"/><circle cx="395.4" cy="110.9" r="2.5"/><circle cx="397.5" cy="111.5" r="2.5"/><circle cx="401.5" cy="110.5" r="2.5"/><circle cx="403.7" cy="111.4" r="2.5"/><circle cx="407.0" cy="112.4" r="2.5"/><circle cx="381.1" cy="114.1" r="2.5"/><circle cx="383.0" cy="114.7" r="2.5"/><circle cx="388.1" cy="113.7" r="2.5"/><circle cx="389.6" cy="115.1" r="2.5"/><circle cx="392.1" cy="113.0" r="2.5"/><circle cx="395.0" cy="114.7" r="2.5"/><circle cx="399.6" cy="113.9" r="2.5"/><circle cx="402.3" cy="112.9" r="2.5"/><circle cx="405.3" cy="113.9" r="2.5"/><circle cx="408.0" cy="113.7" r="2.5"/><circle cx="381.5" cy="116.4" r="2.5"/><circle cx="384.9" cy="117.1" r="2.5"/><circle cx="389.2" cy="117.1" r="2.5"/><circle cx="391.4" cy="116.0" r="2.5"/><circle cx="394.2" cy="116.6" r="2.5"/><circle cx="397.8" cy="117.7" r="2.5"/><circle cx="399.6" cy="116.6" r="2.5"/><circle cx="403.5" cy="117.1" r="2.5"/><circle cx="407.4" cy="117.2" r="2.5"/><circle cx="381.4" cy="120.0" r="2.5"/><circle cx="384.5" cy="119.6" r="2.5"/><circle cx="386.4" cy="120.2" r="2.5"/><circle cx="389.7" cy="119.5" r="2.5"/><circle cx="393.7" cy="120.3" r="2.5"/><circle cx="397.1" cy="118.1" r="2.5"/><circle cx="398.6" cy="118.8" r="2.5"/><circle cx="401.8" cy="118.4" r="2.5"/><circle cx="405.1" cy="118.3" r="2.5"/><circle cx="407.5" cy="120.2" r="2.5"/><circle cx="381.6" cy="122.9" r="2.5"/><circle cx="386.0" cy="121.1" r="2.5"/><circle cx="388.1" cy="122.1" r="2.5"/><circle cx="391.9" cy="121.3" r="2.5"/><circle cx="395.5" cy="121.4" r="2.5"/><circle cx="396.9" cy="122.6" r="2.5"/><circle cx="399.7" cy="122.2" r="2.5"/><circle cx="402.8" cy="122.0" r="2.5"/><circle cx="406.0" cy="121.5" r="2.5"/><circle cx="380.9" cy="124.7" r="2.5"/><circle cx="383.5" cy="123.7" r="2.5"/><circle cx="386.7" cy="123.9" r="2.5"/><circle cx="389.3" cy="125.5" r="2.5"/><circle cx="391.9" cy="125.1" r="2.5"/><circle cx="397.0" cy="124.9" r="2.5"/><circle cx="397.9" cy="124.4" r="2.5"/><circle cx="400.9" cy="124.7" r="2.5"/><circle cx="405.5" cy="123.8" r="2.5"/><circle cx="406.9" cy="124.5" r="2.5"/><circle cx="382.4" cy="127.9" r="2.5"/><circle cx="385.2" cy="126.2" r="2.5"/><circle cx="389.2" cy="127.8" r="2.5"/><circle cx="391.6" cy="126.0" r="2.5"/><circle cx="393.8" cy="126.8" r="2.5"/><circle cx="397.6" cy="126.4" r="2.5"/><circle cx="401.2" cy="127.8" r="2.5"/><circle cx="404.5" cy="127.9" r="2.5"/><circle cx="405.4" cy="127.2" r="2.5"/><circle cx="381.6" cy="130.2" r="2.5"/><circle cx="383.3" cy="128.6" r="2.5"/><circle cx="387.7" cy="129.9" r="2.5"/><circle cx="390.3" cy="129.6" r="2.5"/><circle cx="393.7" cy="129.3" r="2.5"/><circle cx="395.5" cy="129.3" r="2.5"/><circle cx="398.5" cy="129.9" r="2.5"/><circle cx="402.9" cy="128.7" r="2.5"/><circle cx="404.0" cy="129.7" r="2.5"/><circle cx="381.4" cy="132.2" r="2.5"/><circle cx="385.9" cy="132.6" r="2.5"/><circle cx="387.7" cy="131.4" r="2.5"/><circle cx="392.5" cy="132.3" r="2.5"/><circle cx="394.3" cy="132.7" r="2.5"/><circle cx="398.0" cy="132.3" r="2.5"/><circle cx="399.5" cy="133.0" r="2.5"/><circle cx="402.8" cy="131.2" r="2.5"/><circle cx="406.2" cy="132.3" r="2.5"/><circle cx="381.5" cy="134.9" r="2.5"/><circle cx="383.2" cy="135.7" r="2.5"/><circle cx="387.7" cy="135.8" r="2.5"/><circle cx="390.4" cy="134.2" r="2.5"/><circle cx="393.6" cy="135.8" r="2.5"/><circle cx="396.1" cy="135.8" r="2.5"/><circle cx="400.1" cy="134.6" r="2.5"/><circle cx="403.0" cy="135.9" r="2.5"/><circle cx="405.7" cy="133.8" r="2.5"/><circle cx="382.8" cy="136.7" r="2.5"/><circle cx="386.5" cy="137.6" r="2.5"/><circle cx="389.4" cy="136.8" r="2.5"/><circle cx="392.6" cy="137.6" r="2.5"/><circle cx="402.8" cy="137.6" r="2.5"/><circle cx="501.9" cy="75.3" r="2.5"/><circle cx="504.7" cy="76.2" r="2.5"/><circle cx="488.0" cy="77.6" r="2.5"/><circle cx="490.8" cy="78.0" r="2.5"/><circle cx="499.7" cy="77.2" r="2.5"/><circle cx="503.6" cy="78.4" r="2.5"/><circle cx="506.9" cy="77.1" r="2.5"/><circle cx="509.8" cy="78.6" r="2.5"/><circle cx="487.2" cy="79.8" r="2.5"/><circle cx="489.9" cy="79.9" r="2.5"/><circle cx="491.9" cy="79.7" r="2.5"/><circle cx="495.5" cy="80.8" r="2.5"/><circle cx="497.9" cy="80.7" r="2.5"/><circle cx="501.1" cy="80.7" r="2.5"/><circle cx="504.2" cy="79.7" r="2.5"/><circle cx="506.7" cy="79.4" r="2.5"/><circle cx="510.9" cy="80.1" r="2.5"/><circle cx="485.3" cy="81.9" r="2.5"/><circle cx="488.5" cy="83.1" r="2.5"/><circle cx="490.9" cy="82.9" r="2.5"/><circle cx="495.0" cy="82.7" r="2.5"/><circle cx="497.3" cy="83.2" r="2.5"/><circle cx="499.7" cy="82.6" r="2.5"/><circle cx="503.6" cy="83.2" r="2.5"/><circle cx="505.9" cy="83.0" r="2.5"/><circle cx="508.4" cy="83.6" r="2.5"/><circle cx="510.9" cy="83.3" r="2.5"/><circle cx="486.7" cy="85.7" r="2.5"/><circle cx="488.6" cy="85.5" r="2.5"/><circle cx="491.8" cy="86.2" r="2.5"/><circle cx="495.1" cy="85.2" r="2.5"/><circle cx="497.9" cy="84.6" r="2.5"/><circle cx="500.8" cy="84.8" r="2.5"/><circle cx="504.8" cy="86.3" r="2.5"/><circle cx="506.9" cy="84.7" r="2.5"/><circle cx="510.6" cy="84.7" r="2.5"/><circle cx="484.3" cy="88.6" r="2.5"/><circle cx="488.1" cy="87.2" r="2.5"/><circle cx="490.4" cy="88.4" r="2.5"/><circle cx="493.1" cy="87.5" r="2.5"/><circle cx="497.2" cy="88.9" r="2.5"/><circle cx="500.0" cy="88.5" r="2.5"/><circle cx="501.9" cy="87.7" r="2.5"/><circle cx="505.6" cy="89.1" r="2.5"/><circle cx="508.7" cy="88.8" r="2.5"/><circle cx="484.4" cy="91.4" r="2.5"/><circle cx="486.7" cy="90.1" r="2.5"/><circle cx="490.4" cy="89.8" r="2.5"/><circle cx="493.5" cy="91.4" r="2.5"/><circle cx="496.0" cy="90.8" r="2.5"/><circle cx="497.8" cy="90.4" r="2.5"/><circle cx="501.9" cy="91.1" r="2.5"/><circle cx="504.3" cy="91.4" r="2.5"/><circle cx="506.5" cy="90.3" r="2.5"/><circle cx="484.2" cy="93.0" r="2.5"/><circle cx="487.1" cy="93.7" r="2.5"/><circle cx="490.9" cy="92.8" r="2.5"/><circle cx="493.7" cy="94.2" r="2.5"/><circle cx="496.8" cy="93.8" r="2.5"/><circle cx="500.3" cy="93.3" r="2.5"/><circle cx="503.1" cy="93.1" r="2.5"/><circle cx="505.3" cy="93.4" r="2.5"/><circle cx="508.6" cy="93.0" r="2.5"/><circle cx="485.5" cy="95.4" r="2.5"/><circle cx="490.3" cy="95.6" r="2.5"/><circle cx="492.9" cy="95.4" r="2.5"/><circle cx="495.8" cy="95.9" r="2.5"/><circle cx="499.0" cy="96.1" r="2.5"/><circle cx="501.2" cy="95.5" r="2.5"/><circle cx="504.7" cy="96.7" r="2.5"/><circle cx="507.9" cy="95.9" r="2.5"/><circle cx="485.4" cy="99.2" r="2.5"/><circle cx="488.4" cy="99.6" r="2.5"/><circle cx="491.8" cy="98.0" r="2.5"/><circle cx="495.1" cy="98.2" r="2.5"/><circle cx="496.7" cy="99.6" r="2.5"/><circle cx="499.3" cy="98.4" r="2.5"/><circle cx="503.3" cy="98.1" r="2.5"/><circle cx="505.5" cy="99.2" r="2.5"/><circle cx="484.4" cy="101.9" r="2.5"/><circle cx="487.6" cy="101.2" r="2.5"/><circle cx="489.9" cy="101.2" r="2.5"/><circle cx="493.5" cy="101.6" r="2.5"/><circle cx="495.3" cy="101.6" r="2.5"/><circle cx="498.0" cy="100.4" r="2.5"/><circle cx="501.2" cy="100.4" r="2.5"/><circle cx="503.4" cy="100.3" r="2.5"/><circle cx="507.4" cy="101.8" r="2.5"/><circle cx="485.3" cy="105.8" r="2.5"/><circle cx="489.3" cy="105.7" r="2.5"/><circle cx="492.0" cy="104.5" r="2.5"/><circle cx="494.1" cy="104.7" r="2.5"/><circle cx="497.4" cy="105.9" r="2.5"/><circle cx="501.6" cy="104.2" r="2.5"/><circle cx="504.5" cy="106.0" r="2.5"/><circle cx="506.4" cy="105.5" r="2.5"/><circle cx="510.1" cy="104.4" r="2.5"/><circle cx="483.1" cy="108.2" r="2.5"/><circle cx="487.0" cy="108.6" r="2.5"/><circle cx="489.3" cy="107.8" r="2.5"/><circle cx="492.2" cy="108.4" r="2.5"/><circle cx="496.5" cy="106.7" r="2.5"/><circle cx="498.6" cy="106.9" r="2.5"/><circle cx="502.3" cy="108.0" r="2.5"/><circle cx="504.0" cy="108.7" r="2.5"/><circle cx="509.0" cy="107.6" r="2.5"/><circle cx="482.7" cy="110.1" r="2.5"/><circle cx="485.4" cy="110.9" r="2.5"/><circle cx="487.8" cy="109.9" r="2.5"/><circle cx="492.1" cy="109.7" r="2.5"/><circle cx="493.6" cy="111.2" r="2.5"/><circle cx="496.8" cy="110.1" r="2.5"/><circle cx="500.1" cy="109.8" r="2.5"/><circle cx="503.2" cy="110.4" r="2.5"/><circle cx="505.7" cy="110.4" r="2.5"/><circle cx="508.5" cy="109.4" r="2.5"/><circle cx="484.7" cy="113.3" r="2.5"/><circle cx="486.9" cy="113.5" r="2.5"/><circle cx="490.4" cy="112.5" r="2.5"/><circle cx="493.3" cy="113.5" r="2.5"/><circle cx="496.1" cy="113.5" r="2.5"/><circle cx="499.3" cy="113.9" r="2.5"/><circle cx="501.5" cy="113.3" r="2.5"/><circle cx="506.0" cy="113.0" r="2.5"/><circle cx="508.9" cy="112.0" r="2.5"/><circle cx="483.1" cy="115.4" r="2.5"/><circle cx="485.6" cy="115.0" r="2.5"/><circle cx="488.0" cy="116.4" r="2.5"/><circle cx="491.8" cy="115.8" r="2.5"/><circle cx="493.7" cy="115.1" r="2.5"/><circle cx="498.5" cy="114.9" r="2.5"/><circle cx="500.6" cy="116.0" r="2.5"/><circle cx="503.5" cy="115.7" r="2.5"/><circle cx="507.5" cy="116.2" r="2.5"/><circle cx="508.9" cy="115.4" r="2.5"/><circle cx="484.4" cy="118.0" r="2.5"/><circle cx="485.9" cy="117.7" r="2.5"/><circle cx="489.7" cy="117.5" r="2.5"/><circle cx="493.4" cy="119.2" r="2.5"/><circle cx="496.9" cy="118.4" r="2.5"/><circle cx="499.8" cy="118.1" r="2.5"/><circle cx="502.2" cy="119.0" r="2.5"/><circle cx="504.0" cy="117.9" r="2.5"/><circle cx="507.7" cy="117.8" r="2.5"/><circle cx="484.9" cy="120.1" r="2.5"/><circle cx="488.1" cy="121.4" r="2.5"/><circle cx="490.9" cy="121.4" r="2.5"/><circle cx="493.8" cy="121.0" r="2.5"/><circle cx="498.0" cy="121.2" r="2.5"/><circle cx="499.6" cy="121.8" r="2.5"/><circle cx="504.3" cy="120.7" r="2.5"/><circle cx="507.3" cy="121.0" r="2.5"/><circle cx="508.8" cy="120.5" r="2.5"/><circle cx="483.3" cy="123.6" r="2.5"/><circle cx="487.3" cy="123.3" r="2.5"/><circle cx="489.8" cy="124.4" r="2.5"/><circle cx="492.7" cy="123.8" r="2.5"/><circle cx="495.4" cy="123.4" r="2.5"/><circle cx="498.3" cy="122.5" r="2.5"/><circle cx="501.6" cy="122.5" r="2.5"/><circle cx="504.7" cy="123.7" r="2.5"/><circle cx="508.1" cy="124.0" r="2.5"/><circle cx="483.0" cy="125.8" r="2.5"/><circle cx="488.6" cy="125.4" r="2.5"/><circle cx="491.2" cy="126.0" r="2.5"/><circle cx="494.1" cy="125.1" r="2.5"/><circle cx="497.3" cy="126.3" r="2.5"/><circle cx="506.3" cy="126.3" r="2.5"/><circle cx="488.6" cy="128.0" r="2.5"/><circle cx="493.9" cy="128.1" r="2.5"/><circle cx="507.0" cy="128.1" r="2.5"/><circle cx="483.5" cy="130.8" r="2.5"/><circle cx="487.4" cy="129.7" r="2.5"/><circle cx="490.2" cy="130.9" r="2.5"/><circle cx="492.3" cy="129.1" r="2.5"/><circle cx="495.3" cy="130.5" r="2.5"/><circle cx="498.2" cy="129.9" r="2.5"/><circle cx="503.3" cy="129.1" r="2.5"/><circle cx="505.8" cy="129.9" r="2.5"/><circle cx="509.8" cy="129.8" r="2.5"/><circle cx="485.4" cy="132.3" r="2.5"/><circle cx="489.0" cy="133.7" r="2.5"/><circle cx="491.1" cy="132.4" r="2.5"/><circle cx="493.6" cy="132.0" r="2.5"/><circle cx="496.8" cy="131.8" r="2.5"/><circle cx="501.3" cy="131.5" r="2.5"/><circle cx="504.1" cy="132.8" r="2.5"/><circle cx="507.7" cy="132.7" r="2.5"/><circle cx="485.7" cy="136.5" r="2.5"/><circle cx="490.5" cy="135.8" r="2.5"/><circle cx="493.5" cy="134.7" r="2.5"/><circle cx="495.9" cy="135.1" r="2.5"/><circle cx="498.7" cy="135.0" r="2.5"/><circle cx="502.2" cy="135.7" r="2.5"/><circle cx="504.3" cy="135.4" r="2.5"/><circle cx="507.8" cy="136.5" r="2.5"/><circle cx="485.2" cy="139.1" r="2.5"/><circle cx="488.1" cy="137.6" r="2.5"/><circle cx="491.4" cy="137.0" r="2.5"/><circle cx="494.9" cy="137.7" r="2.5"/><circle cx="498.0" cy="137.2" r="2.5"/><circle cx="500.9" cy="137.3" r="2.5"/><circle cx="502.8" cy="137.6" r="2.5"/><circle cx="507.9" cy="137.9" r="2.5"/><circle cx="486.8" cy="141.6" r="2.5"/><circle cx="495.3" cy="140.9" r="2.5"/><circle cx="499.4" cy="141.8" r="2.5"/><circle cx="501.7" cy="141.3" r="2.5"/><circle cx="504.8" cy="140.1" r="2.5"/><circle cx="494.6" cy="144.1" r="2.5"/><circle cx="496.8" cy="144.7" r="2.5"/><circle cx="501.0" cy="143.0" r="2.5"/><circle cx="505.0" cy="144.6" r="2.5"/><circle cx="495.5" cy="146.6" r="2.5"/><circle cx="500.0" cy="145.9" r="2.5"/><circle cx="502.4" cy="146.8" r="2.5"/><circle cx="505.7" cy="146.3" r="2.5"/><circle cx="494.3" cy="149.1" r="2.5"/><circle cx="497.9" cy="148.4" r="2.5"/><circle cx="501.6" cy="149.3" r="2.5"/><circle cx="502.8" cy="149.2" r="2.5"/><circle cx="496.5" cy="151.7" r="2.5"/><circle cx="498.3" cy="152.6" r="2.5"/><circle cx="502.1" cy="152.5" r="2.5"/><circle cx="497.4" cy="156.0" r="2.5"/><circle cx="499.7" cy="154.5" r="2.5"/><circle cx="498.1" cy="156.9" r="2.5"/></g>
<line x1="348.7" y1="42.4" x2="348.7" y2="246.9" stroke="#3a3a3a" stroke-width="1.2"/>
<line x1="348.09999999999997" y1="246.4" x2="543" y2="246.4" stroke="#3a3a3a" stroke-width="1.2"/>
<line x1="344.7" y1="246.4" x2="348.7" y2="246.4" stroke="#3a3a3a" stroke-width="1"/>
<text x="343.6" y="250.3" font-family="Liberation Sans, sans-serif" font-size="11" font-weight="normal" text-anchor="end" fill="#1a1a1a" stroke="#1a1a1a" stroke-width="0.35">0</text>
<line x1="344.7" y1="220.6" x2="348.7" y2="220.6" stroke="#3a3a3a" stroke-width="1"/>
<text x="343.6" y="224.5" font-family="Liberation Sans, sans-serif" font-size="11" font-weight="normal" text-anchor="end" fill="#1a1a1a" stroke="#1a1a1a" stroke-width="0.35">2</text>
<line x1="344.7" y1="194.8" x2="348.7" y2="194.8" stroke="#3a3a3a" stroke-width="1"/>
<text x="343.6" y="198.7" font-family="Liberation Sans, sans-serif" font-size="11" font-weight="normal" text-anchor="end" fill="#1a1a1a" stroke="#1a1a1a" stroke-width="0.35">4</text>
<line x1="344.7" y1="169.0" x2="348.7" y2="169.0" stroke="#3a3a3a" stroke-width="1"/>
<text x="343.6" y="172.9" font-family="Liberation Sans, sans-serif" font-size="11" font-weight="normal" text-anchor="end" fill="#1a1a1a" stroke="#1a1a1a" stroke-width="0.35">6</text>
<line x1="344.7" y1="143.2" x2="348.7" y2="143.2" stroke="#3a3a3a" stroke-width="1"/>
<text x="343.6" y="147.1" font-family="Liberation Sans, sans-serif" font-size="11" font-weight="normal" text-anchor="end" fill="#1a1a1a" stroke="#1a1a1a" stroke-width="0.35">8</text>
<line x1="344.7" y1="117.4" x2="348.7" y2="117.4" stroke="#3a3a3a" stroke-width="1"/>
<text x="343.6" y="121.3" font-family="Liberation Sans, sans-serif" font-size="11" font-weight="normal" text-anchor="end" fill="#1a1a1a" stroke="#1a1a1a" stroke-width="0.35">10</text>
<line x1="344.7" y1="91.6" x2="348.7" y2="91.6" stroke="#3a3a3a" stroke-width="1"/>
<text x="343.6" y="95.5" font-family="Liberation Sans, sans-serif" font-size="11" font-weight="normal" text-anchor="end" fill="#1a1a1a" stroke="#1a1a1a" stroke-width="0.35">12</text>
<line x1="344.7" y1="65.8" x2="348.7" y2="65.8" stroke="#3a3a3a" stroke-width="1"/>
<text x="343.6" y="69.7" font-family="Liberation Sans, sans-serif" font-size="11" font-weight="normal" text-anchor="end" fill="#1a1a1a" stroke="#1a1a1a" stroke-width="0.35">14</text>
<line x1="394.5" y1="246.4" x2="394.5" y2="248.9" stroke="#3a3a3a" stroke-width="1"/>
<line x1="497.3" y1="246.4" x2="497.3" y2="248.9" stroke="#3a3a3a" stroke-width="1"/>
<text x="383.9" y="265.3" font-family="Liberation Sans, sans-serif" font-size="11.3" font-weight="normal" text-anchor="start" fill="#1a1a1a" textLength="21.0" lengthAdjust="spacingAndGlyphs" stroke="#1a1a1a" stroke-width="0.45">CP4</text>
<text x="476.0" y="265.3" font-family="Liberation Sans, sans-serif" font-size="11.3" font-weight="normal" text-anchor="start" fill="#1a1a1a" textLength="49.5" lengthAdjust="spacingAndGlyphs" stroke="#1a1a1a" stroke-width="0.45">Non-CP4</text>
<text x="430.3" y="295.6" font-family="Liberation Sans, sans-serif" font-size="11.5" font-weight="normal" text-anchor="start" fill="#1a1a1a" textLength="31.8" lengthAdjust="spacingAndGlyphs">Group</text>
<text x="406.5" y="319.8" font-family="Liberation Serif, sans-serif" font-size="10.5" font-weight="bold" text-anchor="start" fill="#1a1a1a" textLength="13.0" lengthAdjust="spacingAndGlyphs">(d)</text>
<text x="393.5" y="24.6" font-family="Liberation Sans, sans-serif" font-size="9" font-weight="normal" text-anchor="start" fill="#1a1a1a" textLength="83.5" lengthAdjust="spacingAndGlyphs">p-Value: 1.555 × 10</text>
<text x="477.3" y="20.6" font-family="Liberation Sans, sans-serif" font-size="6.3" font-weight="normal" text-anchor="start" fill="#1a1a1a" textLength="5.7" lengthAdjust="spacingAndGlyphs">-5</text>
<text x="393.5" y="39.7" font-family="Liberation Sans, sans-serif" font-size="9" font-weight="normal" text-anchor="start" fill="#1a1a1a" textLength="83.5" lengthAdjust="spacingAndGlyphs">q-Value: 3.418 × 10</text>
<text x="477.3" y="35.7" font-family="Liberation Sans, sans-serif" font-size="6.3" font-weight="normal" text-anchor="start" fill="#1a1a1a" textLength="5.8" lengthAdjust="spacingAndGlyphs">-4</text>
<text transform="translate(300.3,272.4) rotate(-90)" x="0" y="0" font-family="Liberation Sans, sans-serif" font-size="12" fill="#1a1a1a" stroke="#1a1a1a" stroke-width="0.15" textLength="255.4" lengthAdjust="spacingAndGlyphs">KRT15, mRNA expression (RNA Seq V2 RSEM)</text>
<text transform="translate(311,159.6) rotate(-90)" x="0" y="0" font-family="Liberation Sans, sans-serif" font-size="12" fill="#1a1a1a" stroke="#1a1a1a" stroke-width="0.15" textLength="29.8" lengthAdjust="spacingAndGlyphs">(log2)</text>
<line x1="58.3" y1="536.0" x2="237" y2="536.0" stroke="#f5f5f6" stroke-width="1"/>
<line x1="58.3" y1="504.5" x2="237" y2="504.5" stroke="#f5f5f6" stroke-width="1"/>
<line x1="58.3" y1="472.9" x2="237" y2="472.9" stroke="#f5f5f6" stroke-width="1"/>
<line x1="58.3" y1="441.4" x2="237" y2="441.4" stroke="#f5f5f6" stroke-width="1"/>
<line x1="58.3" y1="409.8" x2="237" y2="409.8" stroke="#f5f5f6" stroke-width="1"/>
<line x1="58.3" y1="378.2" x2="237" y2="378.2" stroke="#f5f5f6" stroke-width="1"/>
<line x1="100" y1="377.3" x2="100" y2="567.6" stroke="#f6f6f7" stroke-width="1"/>
<line x1="196.9" y1="377.3" x2="196.9" y2="567.6" stroke="#f6f6f7" stroke-width="1"/>
<rect x="74.3" y="431.6" width="52.0" height="45.0" fill="#ececee"/>
<line x1="100" y1="385.1" x2="100" y2="545.8" stroke="#969696" stroke-width="1"/>
<line x1="74.3" y1="385.1" x2="126.3" y2="385.1" stroke="#969696" stroke-width="1"/>
<line x1="74.3" y1="445.5" x2="126.3" y2="445.5" stroke="#969696" stroke-width="1"/>
<line x1="74.3" y1="545.8" x2="126.3" y2="545.8" stroke="#969696" stroke-width="1"/>
<rect x="170.4" y="416.0" width="52.1" height="35.1" fill="#ececee"/>
<line x1="196.9" y1="385.1" x2="196.9" y2="505.1" stroke="#969696" stroke-width="1"/>
<line x1="170.4" y1="385.1" x2="222.5" y2="385.1" stroke="#969696" stroke-width="1"/>
<line x1="170.4" y1="432.3" x2="222.5" y2="432.3" stroke="#969696" stroke-width="1"/>
<line x1="170.4" y1="505.1" x2="222.5" y2="505.1" stroke="#969696" stroke-width="1"/>
<mask id="me" maskUnits="userSpaceOnUse" x="0" y="0" width="550" height="645"><rect x="0" y="0" width="550" height="645" fill="#fff"/><path fill="#000" d="M99.0,435.5 L103.0,434.0 L107.0,429.5 L108.0,431.0 L104.0,438.0 L101.0,440.5Z"/><path fill="#000" d="M101.5,420.0 L104.5,420.5 L104.0,426.0 L102.0,425.5Z"/><path fill="#000" d="M189.5,401.0 L193.5,402.0 L192.5,405.0 L190.5,404.5Z"/></mask>
<g fill="#01a5f6" mask="url(#me)"><circle cx="90.3" cy="385.2" r="2.5"/><circle cx="99.8" cy="387.8" r="2.5"/><circle cx="93.0" cy="395.5" r="2.5"/><circle cx="95.5" cy="397.5" r="2.5"/><circle cx="97.5" cy="399.0" r="2.5"/><circle cx="112.0" cy="397.8" r="2.5"/><circle cx="87.5" cy="407.5" r="2.5"/><circle cx="90.0" cy="409.5" r="2.5"/><circle cx="92.5" cy="411.0" r="2.5"/><circle cx="107.0" cy="407.0" r="2.5"/><circle cx="112.5" cy="409.0" r="2.5"/><circle cx="111.5" cy="408.5" r="2.5"/><circle cx="89.8" cy="412.5" r="2.5"/><circle cx="91.5" cy="414.9" r="2.5"/><circle cx="89.0" cy="415.0" r="2.5"/><circle cx="89.4" cy="424.3" r="2.5"/><circle cx="111.9" cy="410.8" r="2.5"/><circle cx="88.2" cy="452.6" r="2.5"/><circle cx="88.2" cy="453.3" r="2.5"/><circle cx="109.5" cy="468.8" r="2.5"/><circle cx="107.8" cy="472.1" r="2.5"/><circle cx="105.5" cy="474.0" r="2.5"/><circle cx="100.5" cy="476.2" r="2.5"/><circle cx="103.0" cy="476.0" r="2.5"/><circle cx="103.7" cy="477.5" r="2.5"/><circle cx="104.5" cy="481.1" r="2.5"/><circle cx="106.2" cy="482.7" r="2.5"/><circle cx="111.1" cy="476.2" r="2.5"/><circle cx="111.9" cy="477.8" r="2.5"/><circle cx="109.5" cy="474.5" r="2.5"/><circle cx="87.8" cy="476.6" r="2.5"/><circle cx="90.6" cy="483.6" r="2.5"/><circle cx="88.2" cy="486.0" r="2.5"/><circle cx="86.5" cy="487.6" r="2.5"/><circle cx="93.1" cy="490.9" r="2.5"/><circle cx="111.1" cy="483.6" r="2.5"/><circle cx="110.7" cy="491.3" r="2.5"/><circle cx="99.6" cy="494.6" r="2.5"/><circle cx="87.0" cy="490.0" r="2.5"/><circle cx="93.0" cy="492.5" r="2.5"/><circle cx="96.5" cy="496.5" r="2.5"/><circle cx="111.0" cy="492.0" r="2.5"/><circle cx="103.0" cy="497.5" r="2.5"/><circle cx="105.0" cy="501.0" r="2.5"/><circle cx="107.0" cy="504.0" r="2.5"/><circle cx="109.0" cy="505.0" r="2.5"/><circle cx="111.0" cy="505.0" r="2.5"/><circle cx="108.0" cy="507.5" r="2.5"/><circle cx="90.0" cy="507.0" r="2.5"/><circle cx="93.5" cy="506.5" r="2.5"/><circle cx="99.0" cy="511.5" r="2.5"/><circle cx="102.0" cy="510.0" r="2.5"/><circle cx="101.0" cy="515.0" r="2.5"/><circle cx="102.0" cy="518.0" r="2.5"/><circle cx="112.5" cy="514.5" r="2.5"/><circle cx="87.5" cy="516.2" r="2.5"/><circle cx="91.0" cy="522.0" r="2.5"/><circle cx="93.5" cy="520.5" r="2.5"/><circle cx="88.0" cy="542.5" r="2.5"/><circle cx="88.5" cy="543.5" r="2.5"/><circle cx="101.0" cy="543.5" r="2.5"/><circle cx="109.0" cy="542.0" r="2.5"/><circle cx="97.0" cy="548.8" r="2.5"/><circle cx="94.2" cy="554.5" r="2.5"/><circle cx="185.5" cy="385.5" r="2.5"/><circle cx="203.5" cy="385.0" r="2.5"/><circle cx="204.0" cy="387.5" r="2.5"/><circle cx="204.5" cy="392.0" r="2.5"/><circle cx="193.5" cy="393.5" r="2.5"/><circle cx="192.0" cy="396.0" r="2.5"/><circle cx="207.5" cy="396.0" r="2.5"/><circle cx="186.5" cy="470.5" r="2.5"/><circle cx="186.5" cy="473.5" r="2.5"/><circle cx="186.5" cy="476.0" r="2.5"/><circle cx="193.0" cy="478.5" r="2.5"/><circle cx="195.0" cy="480.5" r="2.5"/><circle cx="197.0" cy="484.0" r="2.5"/><circle cx="199.0" cy="487.0" r="2.5"/><circle cx="206.0" cy="481.0" r="2.5"/><circle cx="208.0" cy="472.0" r="2.5"/><circle cx="207.0" cy="469.0" r="2.5"/><circle cx="201.0" cy="474.0" r="2.5"/><circle cx="196.0" cy="473.0" r="2.5"/><circle cx="197.0" cy="492.0" r="2.5"/><circle cx="199.0" cy="492.5" r="2.5"/><circle cx="208.5" cy="494.5" r="2.5"/><circle cx="185.0" cy="495.5" r="2.5"/><circle cx="187.5" cy="497.0" r="2.5"/><circle cx="189.5" cy="505.0" r="2.5"/><circle cx="195.8" cy="503.0" r="2.5"/><circle cx="196.5" cy="502.5" r="2.5"/><circle cx="202.5" cy="502.5" r="2.5"/><circle cx="185.5" cy="517.5" r="2.5"/><circle cx="185.8" cy="519.5" r="2.5"/><circle cx="192.2" cy="519.5" r="2.5"/><circle cx="197.0" cy="517.0" r="2.5"/><circle cx="202.5" cy="515.5" r="2.5"/><circle cx="203.5" cy="514.0" r="2.5"/><circle cx="190.0" cy="525.5" r="2.5"/><circle cx="193.0" cy="525.0" r="2.5"/><circle cx="188.0" cy="530.0" r="2.5"/><circle cx="202.0" cy="526.2" r="2.5"/><circle cx="202.0" cy="533.5" r="2.5"/><circle cx="208.5" cy="537.8" r="2.5"/><circle cx="193.0" cy="541.2" r="2.5"/><circle cx="193.0" cy="546.0" r="2.5"/><circle cx="186.5" cy="553.8" r="2.5"/><circle cx="193.8" cy="555.5" r="2.5"/><circle cx="203.5" cy="553.8" r="2.5"/><circle cx="182.9" cy="434.6" r="2.5"/><circle cx="182.7" cy="431.9" r="2.5"/><circle cx="182.6" cy="429.2" r="2.5"/><circle cx="182.7" cy="426.7" r="2.5"/><circle cx="183.2" cy="423.7" r="2.5"/><circle cx="183.2" cy="419.8" r="2.5"/><circle cx="183.2" cy="417.0" r="2.5"/><circle cx="183.7" cy="414.5" r="2.5"/><circle cx="183.9" cy="411.4" r="2.5"/><circle cx="183.6" cy="408.4" r="2.5"/><circle cx="184.0" cy="405.4" r="2.5"/><circle cx="184.2" cy="400.8" r="2.5"/><circle cx="184.5" cy="399.5" r="2.5"/><circle cx="186.8" cy="399.2" r="2.5"/><circle cx="190.0" cy="399.9" r="2.5"/><circle cx="193.7" cy="400.2" r="2.5"/><circle cx="194.7" cy="400.3" r="2.5"/><circle cx="198.3" cy="400.9" r="2.5"/><circle cx="201.2" cy="399.6" r="2.5"/><circle cx="204.0" cy="398.4" r="2.5"/><circle cx="206.5" cy="398.2" r="2.5"/><circle cx="207.9" cy="399.2" r="2.5"/><circle cx="208.8" cy="402.2" r="2.5"/><circle cx="208.8" cy="405.8" r="2.5"/><circle cx="208.1" cy="409.0" r="2.5"/><circle cx="208.4" cy="413.2" r="2.5"/><circle cx="208.9" cy="415.1" r="2.5"/><circle cx="208.6" cy="417.6" r="2.5"/><circle cx="208.1" cy="419.1" r="2.5"/><circle cx="206.3" cy="420.8" r="2.5"/><circle cx="204.2" cy="423.3" r="2.5"/><circle cx="206.0" cy="426.9" r="2.5"/><circle cx="207.9" cy="428.1" r="2.5"/><circle cx="208.6" cy="429.4" r="2.5"/><circle cx="208.8" cy="432.1" r="2.5"/><circle cx="208.9" cy="434.8" r="2.5"/><circle cx="208.9" cy="434.5" r="2.5"/><circle cx="205.7" cy="434.5" r="2.5"/><circle cx="202.4" cy="434.5" r="2.5"/><circle cx="199.2" cy="434.5" r="2.5"/><circle cx="196.0" cy="434.5" r="2.5"/><circle cx="192.8" cy="434.5" r="2.5"/><circle cx="189.6" cy="434.5" r="2.5"/><circle cx="186.3" cy="434.5" r="2.5"/><circle cx="183.1" cy="434.5" r="2.5"/><circle cx="183.1" cy="436.0" r="2.5"/><circle cx="186.2" cy="436.0" r="2.5"/><circle cx="189.4" cy="436.0" r="2.5"/><circle cx="192.6" cy="436.0" r="2.5"/><circle cx="195.8" cy="436.0" r="2.5"/><circle cx="198.9" cy="436.0" r="2.5"/><circle cx="202.1" cy="436.0" r="2.5"/><circle cx="205.2" cy="436.0" r="2.5"/><circle cx="208.4" cy="436.0" r="2.5"/><circle cx="208.3" cy="435.6" r="2.5"/><circle cx="207.8" cy="438.4" r="2.5"/><circle cx="207.8" cy="441.5" r="2.5"/><circle cx="208.3" cy="444.0" r="2.5"/><circle cx="208.4" cy="443.5" r="2.5"/><circle cx="205.2" cy="443.5" r="2.5"/><circle cx="202.1" cy="443.5" r="2.5"/><circle cx="198.9" cy="443.5" r="2.5"/><circle cx="195.8" cy="443.5" r="2.5"/><circle cx="192.6" cy="443.5" r="2.5"/><circle cx="189.4" cy="443.5" r="2.5"/><circle cx="186.2" cy="443.5" r="2.5"/><circle cx="183.1" cy="443.5" r="2.5"/><circle cx="183.0" cy="444.0" r="2.5"/><circle cx="183.0" cy="441.6" r="2.5"/><circle cx="183.0" cy="438.8" r="2.5"/><circle cx="183.0" cy="435.9" r="2.5"/><circle cx="99.6" cy="415.8" r="2.5"/><circle cx="101.4" cy="416.7" r="2.5"/><circle cx="105.1" cy="416.5" r="2.5"/><circle cx="98.6" cy="418.3" r="2.5"/><circle cx="101.2" cy="418.5" r="2.5"/><circle cx="102.6" cy="418.2" r="2.5"/><circle cx="96.3" cy="421.6" r="2.5"/><circle cx="98.1" cy="420.5" r="2.5"/><circle cx="101.4" cy="421.5" r="2.5"/><circle cx="104.4" cy="420.0" r="2.5"/><circle cx="108.3" cy="420.0" r="2.5"/><circle cx="110.5" cy="421.0" r="2.5"/><circle cx="96.7" cy="422.1" r="2.5"/><circle cx="101.0" cy="423.4" r="2.5"/><circle cx="103.5" cy="424.1" r="2.5"/><circle cx="105.8" cy="423.3" r="2.5"/><circle cx="109.6" cy="423.0" r="2.5"/><circle cx="111.6" cy="423.8" r="2.5"/><circle cx="96.8" cy="426.5" r="2.5"/><circle cx="99.2" cy="424.6" r="2.5"/><circle cx="101.9" cy="426.3" r="2.5"/><circle cx="104.9" cy="424.7" r="2.5"/><circle cx="107.8" cy="425.1" r="2.5"/><circle cx="111.2" cy="424.7" r="2.5"/><circle cx="94.7" cy="427.7" r="2.5"/><circle cx="97.8" cy="428.6" r="2.5"/><circle cx="99.6" cy="428.2" r="2.5"/><circle cx="103.0" cy="428.2" r="2.5"/><circle cx="105.0" cy="428.0" r="2.5"/><circle cx="108.7" cy="427.0" r="2.5"/><circle cx="110.7" cy="427.6" r="2.5"/><circle cx="93.9" cy="431.2" r="2.5"/><circle cx="97.1" cy="429.5" r="2.5"/><circle cx="99.5" cy="429.5" r="2.5"/><circle cx="102.6" cy="431.4" r="2.5"/><circle cx="104.9" cy="430.0" r="2.5"/><circle cx="107.7" cy="430.5" r="2.5"/><circle cx="111.0" cy="429.6" r="2.5"/><circle cx="92.8" cy="433.2" r="2.5"/><circle cx="96.0" cy="433.7" r="2.5"/><circle cx="97.5" cy="433.6" r="2.5"/><circle cx="100.3" cy="432.5" r="2.5"/><circle cx="103.6" cy="432.0" r="2.5"/><circle cx="105.2" cy="433.7" r="2.5"/><circle cx="108.3" cy="432.9" r="2.5"/><circle cx="111.6" cy="432.9" r="2.5"/><circle cx="88.7" cy="436.0" r="2.5"/><circle cx="90.0" cy="434.2" r="2.5"/><circle cx="93.5" cy="435.4" r="2.5"/><circle cx="96.7" cy="435.8" r="2.5"/><circle cx="100.1" cy="435.1" r="2.5"/><circle cx="101.7" cy="434.6" r="2.5"/><circle cx="105.2" cy="434.2" r="2.5"/><circle cx="106.9" cy="435.2" r="2.5"/><circle cx="109.5" cy="434.4" r="2.5"/><circle cx="90.3" cy="436.6" r="2.5"/><circle cx="92.2" cy="437.2" r="2.5"/><circle cx="95.6" cy="437.1" r="2.5"/><circle cx="97.4" cy="438.1" r="2.5"/><circle cx="99.4" cy="436.7" r="2.5"/><circle cx="102.5" cy="438.1" r="2.5"/><circle cx="106.4" cy="437.5" r="2.5"/><circle cx="108.0" cy="437.7" r="2.5"/><circle cx="111.0" cy="437.6" r="2.5"/><circle cx="88.6" cy="440.3" r="2.5"/><circle cx="91.7" cy="440.8" r="2.5"/><circle cx="94.4" cy="440.4" r="2.5"/><circle cx="97.3" cy="440.2" r="2.5"/><circle cx="99.6" cy="439.6" r="2.5"/><circle cx="102.7" cy="440.0" r="2.5"/><circle cx="105.8" cy="440.6" r="2.5"/><circle cx="107.4" cy="440.1" r="2.5"/><circle cx="110.5" cy="439.6" r="2.5"/><circle cx="88.3" cy="441.6" r="2.5"/><circle cx="92.4" cy="443.3" r="2.5"/><circle cx="95.1" cy="442.0" r="2.5"/><circle cx="97.6" cy="442.4" r="2.5"/><circle cx="100.3" cy="442.7" r="2.5"/><circle cx="102.4" cy="442.6" r="2.5"/><circle cx="105.7" cy="442.5" r="2.5"/><circle cx="109.5" cy="443.5" r="2.5"/><circle cx="97.3" cy="444.2" r="2.5"/><circle cx="98.6" cy="444.8" r="2.5"/><circle cx="101.4" cy="444.3" r="2.5"/><circle cx="105.2" cy="444.3" r="2.5"/><circle cx="106.6" cy="445.0" r="2.5"/><circle cx="109.7" cy="446.0" r="2.5"/><circle cx="98.6" cy="448.1" r="2.5"/><circle cx="101.3" cy="448.1" r="2.5"/><circle cx="104.3" cy="446.5" r="2.5"/><circle cx="106.3" cy="446.8" r="2.5"/><circle cx="108.4" cy="447.3" r="2.5"/><circle cx="98.8" cy="449.0" r="2.5"/><circle cx="101.3" cy="450.1" r="2.5"/><circle cx="104.7" cy="449.9" r="2.5"/><circle cx="106.7" cy="450.4" r="2.5"/><circle cx="110.3" cy="450.2" r="2.5"/><circle cx="96.9" cy="451.4" r="2.5"/><circle cx="101.2" cy="452.4" r="2.5"/><circle cx="103.8" cy="452.8" r="2.5"/><circle cx="105.5" cy="451.8" r="2.5"/><circle cx="108.7" cy="451.8" r="2.5"/><circle cx="96.7" cy="453.9" r="2.5"/><circle cx="98.3" cy="454.4" r="2.5"/><circle cx="102.0" cy="454.5" r="2.5"/><circle cx="105.2" cy="454.7" r="2.5"/><circle cx="108.2" cy="455.7" r="2.5"/><circle cx="111.1" cy="453.7" r="2.5"/><circle cx="98.5" cy="456.2" r="2.5"/><circle cx="100.5" cy="458.2" r="2.5"/><circle cx="104.3" cy="456.1" r="2.5"/><circle cx="107.1" cy="457.3" r="2.5"/><circle cx="108.4" cy="457.2" r="2.5"/><circle cx="88.8" cy="458.9" r="2.5"/><circle cx="96.7" cy="460.3" r="2.5"/><circle cx="99.0" cy="460.0" r="2.5"/><circle cx="101.4" cy="460.5" r="2.5"/><circle cx="90.3" cy="462.6" r="2.5"/><circle cx="91.7" cy="462.4" r="2.5"/><circle cx="94.8" cy="462.6" r="2.5"/><circle cx="97.8" cy="462.6" r="2.5"/><circle cx="100.3" cy="461.3" r="2.5"/><circle cx="103.4" cy="462.6" r="2.5"/><circle cx="90.5" cy="464.1" r="2.5"/><circle cx="93.9" cy="463.9" r="2.5"/><circle cx="95.6" cy="464.2" r="2.5"/><circle cx="95.8" cy="466.0" r="2.5"/><circle cx="97.7" cy="467.2" r="2.5"/><circle cx="185.9" cy="399.2" r="2.5"/><circle cx="204.3" cy="398.4" r="2.5"/><circle cx="206.8" cy="398.9" r="2.5"/><circle cx="184.9" cy="401.4" r="2.5"/><circle cx="186.0" cy="402.2" r="2.5"/><circle cx="190.7" cy="402.1" r="2.5"/><circle cx="192.7" cy="401.5" r="2.5"/><circle cx="196.9" cy="402.0" r="2.5"/><circle cx="200.0" cy="402.7" r="2.5"/><circle cx="201.9" cy="402.8" r="2.5"/><circle cx="204.4" cy="402.5" r="2.5"/><circle cx="208.0" cy="401.2" r="2.5"/><circle cx="184.9" cy="403.9" r="2.5"/><circle cx="187.9" cy="403.2" r="2.5"/><circle cx="192.1" cy="405.3" r="2.5"/><circle cx="194.0" cy="404.0" r="2.5"/><circle cx="197.1" cy="405.2" r="2.5"/><circle cx="201.6" cy="404.1" r="2.5"/><circle cx="202.5" cy="404.8" r="2.5"/><circle cx="207.0" cy="403.6" r="2.5"/><circle cx="183.9" cy="407.2" r="2.5"/><circle cx="186.2" cy="406.5" r="2.5"/><circle cx="189.9" cy="407.6" r="2.5"/><circle cx="193.8" cy="407.1" r="2.5"/><circle cx="196.9" cy="407.6" r="2.5"/><circle cx="198.2" cy="407.4" r="2.5"/><circle cx="202.6" cy="407.4" r="2.5"/><circle cx="205.8" cy="407.4" r="2.5"/><circle cx="208.0" cy="407.1" r="2.5"/><circle cx="185.9" cy="408.5" r="2.5"/><circle cx="188.3" cy="409.7" r="2.5"/><circle cx="192.3" cy="408.9" r="2.5"/><circle cx="194.6" cy="410.1" r="2.5"/><circle cx="197.4" cy="408.5" r="2.5"/><circle cx="200.2" cy="408.9" r="2.5"/><circle cx="203.7" cy="409.5" r="2.5"/><circle cx="205.5" cy="408.5" r="2.5"/><circle cx="184.3" cy="412.3" r="2.5"/><circle cx="186.2" cy="412.2" r="2.5"/><circle cx="189.2" cy="411.2" r="2.5"/><circle cx="192.5" cy="411.6" r="2.5"/><circle cx="195.2" cy="412.9" r="2.5"/><circle cx="199.1" cy="411.5" r="2.5"/><circle cx="202.8" cy="411.1" r="2.5"/><circle cx="205.8" cy="412.1" r="2.5"/><circle cx="185.1" cy="414.1" r="2.5"/><circle cx="188.4" cy="414.8" r="2.5"/><circle cx="191.5" cy="414.7" r="2.5"/><circle cx="194.7" cy="415.8" r="2.5"/><circle cx="198.3" cy="414.0" r="2.5"/><circle cx="200.5" cy="415.3" r="2.5"/><circle cx="202.7" cy="415.7" r="2.5"/><circle cx="205.6" cy="414.9" r="2.5"/><circle cx="183.2" cy="418.1" r="2.5"/><circle cx="186.1" cy="418.2" r="2.5"/><circle cx="189.9" cy="416.5" r="2.5"/><circle cx="193.0" cy="417.3" r="2.5"/><circle cx="195.3" cy="418.3" r="2.5"/><circle cx="200.0" cy="417.5" r="2.5"/><circle cx="202.7" cy="417.6" r="2.5"/><circle cx="205.5" cy="417.8" r="2.5"/><circle cx="186.2" cy="420.5" r="2.5"/><circle cx="188.5" cy="419.7" r="2.5"/><circle cx="192.0" cy="420.2" r="2.5"/><circle cx="195.3" cy="420.8" r="2.5"/><circle cx="196.5" cy="420.3" r="2.5"/><circle cx="200.8" cy="420.2" r="2.5"/><circle cx="202.8" cy="419.5" r="2.5"/><circle cx="206.8" cy="419.9" r="2.5"/><circle cx="184.4" cy="423.4" r="2.5"/><circle cx="188.0" cy="422.3" r="2.5"/><circle cx="190.7" cy="423.6" r="2.5"/><circle cx="192.3" cy="423.1" r="2.5"/><circle cx="196.9" cy="423.3" r="2.5"/><circle cx="199.6" cy="422.9" r="2.5"/><circle cx="202.2" cy="421.7" r="2.5"/><circle cx="183.3" cy="425.2" r="2.5"/><circle cx="184.7" cy="425.9" r="2.5"/><circle cx="187.7" cy="425.0" r="2.5"/><circle cx="192.0" cy="424.2" r="2.5"/><circle cx="195.1" cy="425.3" r="2.5"/><circle cx="197.1" cy="425.2" r="2.5"/><circle cx="201.2" cy="425.9" r="2.5"/><circle cx="183.8" cy="428.4" r="2.5"/><circle cx="186.2" cy="427.5" r="2.5"/><circle cx="190.5" cy="426.7" r="2.5"/><circle cx="193.0" cy="426.7" r="2.5"/><circle cx="195.5" cy="427.9" r="2.5"/><circle cx="199.3" cy="428.8" r="2.5"/><circle cx="202.3" cy="428.0" r="2.5"/><circle cx="204.4" cy="427.0" r="2.5"/><circle cx="183.4" cy="430.3" r="2.5"/><circle cx="184.8" cy="430.0" r="2.5"/><circle cx="187.8" cy="429.9" r="2.5"/><circle cx="191.3" cy="429.5" r="2.5"/><circle cx="195.5" cy="431.4" r="2.5"/><circle cx="197.4" cy="430.2" r="2.5"/><circle cx="201.3" cy="430.3" r="2.5"/><circle cx="203.1" cy="431.2" r="2.5"/><circle cx="207.5" cy="430.4" r="2.5"/><circle cx="208.4" cy="431.1" r="2.5"/><circle cx="183.3" cy="434.0" r="2.5"/><circle cx="186.1" cy="432.8" r="2.5"/><circle cx="189.8" cy="432.8" r="2.5"/><circle cx="193.6" cy="432.4" r="2.5"/><circle cx="196.4" cy="432.3" r="2.5"/><circle cx="199.2" cy="433.8" r="2.5"/><circle cx="201.5" cy="433.7" r="2.5"/><circle cx="204.3" cy="432.4" r="2.5"/><circle cx="208.7" cy="433.9" r="2.5"/><circle cx="187.1" cy="437.5" r="2.5"/><circle cx="189.3" cy="436.3" r="2.5"/><circle cx="192.1" cy="437.4" r="2.5"/><circle cx="195.6" cy="438.0" r="2.5"/><circle cx="197.0" cy="437.5" r="2.5"/><circle cx="200.2" cy="436.6" r="2.5"/><circle cx="203.0" cy="437.2" r="2.5"/><circle cx="207.4" cy="437.0" r="2.5"/><circle cx="184.8" cy="440.7" r="2.5"/><circle cx="187.6" cy="439.8" r="2.5"/><circle cx="191.5" cy="440.5" r="2.5"/><circle cx="194.2" cy="440.5" r="2.5"/><circle cx="196.9" cy="439.9" r="2.5"/><circle cx="200.1" cy="440.0" r="2.5"/><circle cx="203.0" cy="438.8" r="2.5"/><circle cx="204.6" cy="440.6" r="2.5"/><circle cx="207.5" cy="439.0" r="2.5"/><circle cx="185.3" cy="442.8" r="2.5"/><circle cx="188.1" cy="441.8" r="2.5"/><circle cx="191.2" cy="442.5" r="2.5"/><circle cx="195.8" cy="442.4" r="2.5"/><circle cx="197.9" cy="441.7" r="2.5"/><circle cx="200.5" cy="442.4" r="2.5"/><circle cx="204.4" cy="442.6" r="2.5"/><circle cx="206.9" cy="441.6" r="2.5"/><circle cx="184.1" cy="445.2" r="2.5"/><circle cx="189.0" cy="444.9" r="2.5"/><circle cx="199.6" cy="445.1" r="2.5"/><circle cx="184.2" cy="446.7" r="2.5"/><circle cx="186.0" cy="447.9" r="2.5"/><circle cx="188.8" cy="446.5" r="2.5"/><circle cx="191.9" cy="447.8" r="2.5"/><circle cx="195.5" cy="446.8" r="2.5"/><circle cx="199.3" cy="446.6" r="2.5"/><circle cx="202.9" cy="447.5" r="2.5"/><circle cx="206.5" cy="447.3" r="2.5"/><circle cx="184.4" cy="449.8" r="2.5"/><circle cx="186.7" cy="449.9" r="2.5"/><circle cx="191.2" cy="449.7" r="2.5"/><circle cx="194.9" cy="449.3" r="2.5"/><circle cx="197.0" cy="448.6" r="2.5"/><circle cx="201.9" cy="449.9" r="2.5"/><circle cx="202.8" cy="448.5" r="2.5"/><circle cx="208.1" cy="450.3" r="2.5"/><circle cx="182.9" cy="452.3" r="2.5"/><circle cx="186.3" cy="452.6" r="2.5"/><circle cx="190.6" cy="451.9" r="2.5"/><circle cx="192.5" cy="452.3" r="2.5"/><circle cx="196.8" cy="452.2" r="2.5"/><circle cx="199.3" cy="451.4" r="2.5"/><circle cx="201.1" cy="451.7" r="2.5"/><circle cx="206.7" cy="452.7" r="2.5"/><circle cx="184.2" cy="454.9" r="2.5"/><circle cx="188.5" cy="456.0" r="2.5"/><circle cx="191.7" cy="455.2" r="2.5"/><circle cx="195.2" cy="456.3" r="2.5"/><circle cx="196.5" cy="455.8" r="2.5"/><circle cx="201.5" cy="454.3" r="2.5"/><circle cx="203.6" cy="455.3" r="2.5"/><circle cx="206.0" cy="455.4" r="2.5"/><circle cx="187.4" cy="458.9" r="2.5"/><circle cx="190.2" cy="457.5" r="2.5"/><circle cx="192.4" cy="458.0" r="2.5"/><circle cx="195.1" cy="458.4" r="2.5"/><circle cx="198.4" cy="458.9" r="2.5"/><circle cx="202.7" cy="458.1" r="2.5"/><circle cx="205.5" cy="458.2" r="2.5"/><circle cx="186.7" cy="460.4" r="2.5"/><circle cx="195.5" cy="461.1" r="2.5"/><circle cx="197.9" cy="459.7" r="2.5"/><circle cx="201.5" cy="461.2" r="2.5"/><circle cx="203.7" cy="459.6" r="2.5"/><circle cx="196.3" cy="463.4" r="2.5"/><circle cx="200.1" cy="462.5" r="2.5"/><circle cx="203.1" cy="462.4" r="2.5"/><circle cx="197.6" cy="466.7" r="2.5"/><circle cx="201.0" cy="465.3" r="2.5"/><circle cx="203.1" cy="466.8" r="2.5"/><circle cx="195.9" cy="468.9" r="2.5"/><circle cx="199.4" cy="469.1" r="2.5"/><circle cx="203.5" cy="467.9" r="2.5"/><circle cx="194.8" cy="472.2" r="2.5"/><circle cx="197.9" cy="471.5" r="2.5"/><circle cx="196.0" cy="473.5" r="2.5"/><circle cx="199.1" cy="474.2" r="2.5"/></g>
<line x1="57.3" y1="377.3" x2="57.3" y2="568.1" stroke="#3a3a3a" stroke-width="1.2"/>
<line x1="56.699999999999996" y1="567.6" x2="239.5" y2="567.6" stroke="#3a3a3a" stroke-width="1.2"/>
<line x1="53.3" y1="567.6" x2="57.3" y2="567.6" stroke="#3a3a3a" stroke-width="1"/>
<text x="51.5" y="571.5" font-family="Liberation Sans, sans-serif" font-size="11" font-weight="normal" text-anchor="end" fill="#1a1a1a" stroke="#1a1a1a" stroke-width="0.35">0</text>
<line x1="53.3" y1="536.0" x2="57.3" y2="536.0" stroke="#3a3a3a" stroke-width="1"/>
<text x="51.5" y="539.9" font-family="Liberation Sans, sans-serif" font-size="11" font-weight="normal" text-anchor="end" fill="#1a1a1a" stroke="#1a1a1a" stroke-width="0.35">2</text>
<line x1="53.3" y1="504.5" x2="57.3" y2="504.5" stroke="#3a3a3a" stroke-width="1"/>
<text x="51.5" y="508.4" font-family="Liberation Sans, sans-serif" font-size="11" font-weight="normal" text-anchor="end" fill="#1a1a1a" stroke="#1a1a1a" stroke-width="0.35">4</text>
<line x1="53.3" y1="472.9" x2="57.3" y2="472.9" stroke="#3a3a3a" stroke-width="1"/>
<text x="51.5" y="476.8" font-family="Liberation Sans, sans-serif" font-size="11" font-weight="normal" text-anchor="end" fill="#1a1a1a" stroke="#1a1a1a" stroke-width="0.35">6</text>
<line x1="53.3" y1="441.4" x2="57.3" y2="441.4" stroke="#3a3a3a" stroke-width="1"/>
<text x="51.5" y="445.3" font-family="Liberation Sans, sans-serif" font-size="11" font-weight="normal" text-anchor="end" fill="#1a1a1a" stroke="#1a1a1a" stroke-width="0.35">8</text>
<line x1="53.3" y1="409.8" x2="57.3" y2="409.8" stroke="#3a3a3a" stroke-width="1"/>
<text x="51.5" y="413.7" font-family="Liberation Sans, sans-serif" font-size="11" font-weight="normal" text-anchor="end" fill="#1a1a1a" stroke="#1a1a1a" stroke-width="0.35">10</text>
<line x1="53.3" y1="378.2" x2="57.3" y2="378.2" stroke="#3a3a3a" stroke-width="1"/>
<text x="51.5" y="382.1" font-family="Liberation Sans, sans-serif" font-size="11" font-weight="normal" text-anchor="end" fill="#1a1a1a" stroke="#1a1a1a" stroke-width="0.35">12</text>
<line x1="100" y1="567.6" x2="100" y2="570.1" stroke="#3a3a3a" stroke-width="1"/>
<line x1="196.9" y1="567.6" x2="196.9" y2="570.1" stroke="#3a3a3a" stroke-width="1"/>
<text x="91.8" y="584.5" font-family="Liberation Sans, sans-serif" font-size="11.3" font-weight="normal" text-anchor="start" fill="#1a1a1a" textLength="19.7" lengthAdjust="spacingAndGlyphs" stroke="#1a1a1a" stroke-width="0.45">CP4</text>
<text x="176.9" y="580.9" font-family="Liberation Sans, sans-serif" font-size="11.3" font-weight="normal" text-anchor="start" fill="#1a1a1a" textLength="44.6" lengthAdjust="spacingAndGlyphs" stroke="#1a1a1a" stroke-width="0.45">Non-CP4</text>
<text x="133.2" y="614.7" font-family="Liberation Sans, sans-serif" font-size="11.5" font-weight="normal" text-anchor="start" fill="#1a1a1a" textLength="30.3" lengthAdjust="spacingAndGlyphs">Group</text>
<text x="124.2" y="639.5" font-family="Liberation Serif, sans-serif" font-size="10.5" font-weight="bold" text-anchor="start" fill="#1a1a1a" textLength="13.0" lengthAdjust="spacingAndGlyphs">(e)</text>
<text x="104.5" y="350.0" font-family="Liberation Sans, sans-serif" font-size="8.2" font-weight="normal" text-anchor="start" fill="#1a1a1a" textLength="77.3" lengthAdjust="spacingAndGlyphs">p-Value: 1.119 × 10</text>
<text x="182.1" y="346.3" font-family="Liberation Sans, sans-serif" font-size="5.739999999999999" font-weight="normal" text-anchor="start" fill="#1a1a1a" textLength="5.7" lengthAdjust="spacingAndGlyphs">-5</text>
<text x="104.5" y="363.6" font-family="Liberation Sans, sans-serif" font-size="8.2" font-weight="normal" text-anchor="start" fill="#1a1a1a" textLength="77.3" lengthAdjust="spacingAndGlyphs">q-Value: 2.633 × 10</text>
<text x="182.1" y="359.9" font-family="Liberation Sans, sans-serif" font-size="5.739999999999999" font-weight="normal" text-anchor="start" fill="#1a1a1a" textLength="5.8" lengthAdjust="spacingAndGlyphs">-4</text>
<text transform="translate(10.5,599.6) rotate(-90)" x="0" y="0" font-family="Liberation Sans, sans-serif" font-size="11" fill="#1a1a1a" stroke="#1a1a1a" stroke-width="0.15" textLength="254.1" lengthAdjust="spacingAndGlyphs">COL17A1 , mRNA expression (RNA Seq V2 RSEM)</text>
<text transform="translate(22,485.6) rotate(-90)" x="0" y="0" font-family="Liberation Sans, sans-serif" font-size="11" fill="#1a1a1a" stroke="#1a1a1a" stroke-width="0.15" textLength="27.0" lengthAdjust="spacingAndGlyphs">(log2)</text>
<line x1="350.1" y1="541.8" x2="535.5" y2="541.8" stroke="#f5f5f6" stroke-width="1"/>
<line x1="350.1" y1="514.9" x2="535.5" y2="514.9" stroke="#f5f5f6" stroke-width="1"/>
<line x1="350.1" y1="488.0" x2="535.5" y2="488.0" stroke="#f5f5f6" stroke-width="1"/>
<line x1="350.1" y1="461.1" x2="535.5" y2="461.1" stroke="#f5f5f6" stroke-width="1"/>
<line x1="350.1" y1="434.2" x2="535.5" y2="434.2" stroke="#f5f5f6" stroke-width="1"/>
<line x1="350.1" y1="407.3" x2="535.5" y2="407.3" stroke="#f5f5f6" stroke-width="1"/>
<line x1="350.1" y1="380.4" x2="535.5" y2="380.4" stroke="#f5f5f6" stroke-width="1"/>
<line x1="394.2" y1="370.9" x2="394.2" y2="568.7" stroke="#f6f6f7" stroke-width="1"/>
<line x1="494.2" y1="370.9" x2="494.2" y2="568.7" stroke="#f6f6f7" stroke-width="1"/>
<rect x="367.2" y="451.1" width="54.0" height="36.0" fill="#ececee"/>
<line x1="394.2" y1="411.8" x2="394.2" y2="543.3" stroke="#969696" stroke-width="1"/>
<line x1="367.2" y1="411.8" x2="421.2" y2="411.8" stroke="#969696" stroke-width="1"/>
<line x1="367.2" y1="466.5" x2="421.2" y2="466.5" stroke="#969696" stroke-width="1"/>
<line x1="367.2" y1="543.3" x2="421.2" y2="543.3" stroke="#969696" stroke-width="1"/>
<rect x="467.3" y="433.5" width="53.7" height="32.3" fill="#ececee"/>
<line x1="494.2" y1="383.1" x2="494.2" y2="516.4" stroke="#969696" stroke-width="1"/>
<line x1="467.3" y1="383.1" x2="521.0" y2="383.1" stroke="#969696" stroke-width="1"/>
<line x1="467.3" y1="451.1" x2="521.0" y2="451.1" stroke="#969696" stroke-width="1"/>
<line x1="467.3" y1="516.4" x2="521.0" y2="516.4" stroke="#969696" stroke-width="1"/>
<mask id="mf" maskUnits="userSpaceOnUse" x="0" y="0" width="550" height="645"><rect x="0" y="0" width="550" height="645" fill="#fff"/><path fill="#000" d="M383.5,465.0 L387.5,465.5 L386.5,469.0 L384.0,468.5Z"/><path fill="#000" d="M394.0,464.8 L397.5,465.0 L397.5,468.5 L394.5,468.0Z"/><path fill="#000" d="M389.7,478.6 L395.5,475.3 L396.0,476.5 L390.5,479.0Z"/><path fill="#000" d="M389.7,451.5 L393.0,452.0 L392.5,454.0 L390.0,453.8Z"/><path fill="#000" d="M493.5,436.0 L498.0,436.5 L497.0,440.0 L493.5,439.5Z"/><path fill="#000" d="M495.5,470.5 L503.0,471.0 L503.5,474.5 L497.0,475.0Z"/><path fill="#000" d="M489.5,479.0 L493.5,480.0 L493.0,482.0 L489.5,481.5Z"/></mask>
<g fill="#01a5f6" mask="url(#mf)"><circle cx="381.5" cy="413.6" r="2.5"/><circle cx="384.0" cy="414.0" r="2.5"/><circle cx="386.5" cy="413.2" r="2.5"/><circle cx="388.9" cy="412.8" r="2.5"/><circle cx="391.4" cy="411.5" r="2.5"/><circle cx="393.8" cy="412.4" r="2.5"/><circle cx="396.3" cy="412.0" r="2.5"/><circle cx="398.7" cy="412.0" r="2.5"/><circle cx="390.5" cy="415.2" r="2.5"/><circle cx="387.3" cy="415.2" r="2.5"/><circle cx="383.2" cy="415.6" r="2.5"/><circle cx="406.5" cy="414.0" r="2.5"/><circle cx="382.4" cy="419.7" r="2.5"/><circle cx="381.5" cy="423.0" r="2.5"/><circle cx="383.2" cy="425.5" r="2.5"/><circle cx="382.4" cy="427.9" r="2.5"/><circle cx="386.5" cy="424.6" r="2.5"/><circle cx="385.6" cy="422.6" r="2.5"/><circle cx="394.2" cy="427.1" r="2.5"/><circle cx="397.1" cy="431.2" r="2.5"/><circle cx="398.0" cy="432.8" r="2.5"/><circle cx="401.2" cy="418.9" r="2.5"/><circle cx="402.0" cy="421.4" r="2.5"/><circle cx="404.5" cy="421.8" r="2.5"/><circle cx="406.9" cy="421.8" r="2.5"/><circle cx="402.0" cy="423.0" r="2.5"/><circle cx="402.8" cy="434.5" r="2.5"/><circle cx="404.5" cy="436.0" r="2.5"/><circle cx="406.9" cy="439.4" r="2.5"/><circle cx="402.0" cy="439.4" r="2.5"/><circle cx="401.2" cy="436.9" r="2.5"/><circle cx="405.3" cy="442.6" r="2.5"/><circle cx="402.0" cy="442.6" r="2.5"/><circle cx="384.4" cy="439.4" r="2.5"/><circle cx="392.2" cy="437.7" r="2.5"/><circle cx="393.8" cy="441.0" r="2.5"/><circle cx="395.5" cy="443.5" r="2.5"/><circle cx="406.1" cy="473.6" r="2.5"/><circle cx="380.7" cy="488.0" r="2.5"/><circle cx="381.1" cy="489.1" r="2.5"/><circle cx="379.9" cy="502.2" r="2.5"/><circle cx="381.5" cy="499.7" r="2.5"/><circle cx="383.6" cy="496.9" r="2.5"/><circle cx="385.6" cy="498.9" r="2.5"/><circle cx="387.7" cy="502.2" r="2.5"/><circle cx="398.7" cy="497.3" r="2.5"/><circle cx="396.7" cy="499.7" r="2.5"/><circle cx="394.6" cy="503.0" r="2.5"/><circle cx="396.3" cy="505.5" r="2.5"/><circle cx="399.5" cy="506.3" r="2.5"/><circle cx="402.8" cy="506.7" r="2.5"/><circle cx="397.1" cy="508.7" r="2.5"/><circle cx="395.0" cy="512.0" r="2.5"/><circle cx="384.4" cy="511.6" r="2.5"/><circle cx="403.6" cy="514.5" r="2.5"/><circle cx="387.3" cy="522.2" r="2.5"/><circle cx="391.0" cy="529.6" r="2.5"/><circle cx="407.3" cy="528.8" r="2.5"/><circle cx="387.5" cy="522.2" r="2.5"/><circle cx="391.0" cy="531.2" r="2.5"/><circle cx="407.2" cy="529.5" r="2.5"/><circle cx="392.8" cy="540.5" r="2.5"/><circle cx="381.0" cy="547.5" r="2.5"/><circle cx="383.0" cy="550.0" r="2.5"/><circle cx="388.0" cy="553.8" r="2.5"/><circle cx="402.5" cy="553.0" r="2.5"/><circle cx="489.0" cy="380.0" r="2.5"/><circle cx="499.8" cy="386.0" r="2.5"/><circle cx="502.5" cy="394.0" r="2.5"/><circle cx="506.0" cy="395.0" r="2.5"/><circle cx="483.0" cy="398.0" r="2.5"/><circle cx="485.0" cy="397.5" r="2.5"/><circle cx="481.0" cy="404.0" r="2.5"/><circle cx="500.5" cy="403.0" r="2.5"/><circle cx="483.0" cy="410.0" r="2.5"/><circle cx="482.0" cy="414.0" r="2.5"/><circle cx="490.5" cy="407.5" r="2.5"/><circle cx="497.0" cy="407.5" r="2.5"/><circle cx="501.0" cy="408.0" r="2.5"/><circle cx="483.0" cy="492.0" r="2.5"/><circle cx="486.0" cy="491.0" r="2.5"/><circle cx="487.0" cy="489.0" r="2.5"/><circle cx="482.0" cy="490.0" r="2.5"/><circle cx="493.0" cy="490.0" r="2.5"/><circle cx="495.0" cy="492.0" r="2.5"/><circle cx="496.0" cy="494.0" r="2.5"/><circle cx="498.0" cy="495.0" r="2.5"/><circle cx="501.0" cy="496.0" r="2.5"/><circle cx="504.0" cy="497.0" r="2.5"/><circle cx="497.0" cy="491.0" r="2.5"/><circle cx="500.0" cy="492.0" r="2.5"/><circle cx="506.0" cy="491.0" r="2.5"/><circle cx="507.0" cy="489.0" r="2.5"/><circle cx="507.5" cy="492.0" r="2.5"/><circle cx="494.0" cy="488.0" r="2.5"/><circle cx="498.0" cy="489.0" r="2.5"/><circle cx="493.5" cy="505.0" r="2.5"/><circle cx="500.0" cy="504.5" r="2.5"/><circle cx="500.5" cy="507.5" r="2.5"/><circle cx="491.0" cy="518.0" r="2.5"/><circle cx="493.5" cy="519.5" r="2.5"/><circle cx="495.0" cy="520.5" r="2.5"/><circle cx="502.0" cy="520.5" r="2.5"/><circle cx="506.5" cy="520.5" r="2.5"/><circle cx="490.5" cy="535.0" r="2.5"/><circle cx="490.0" cy="537.5" r="2.5"/><circle cx="488.0" cy="540.5" r="2.5"/><circle cx="485.5" cy="543.5" r="2.5"/><circle cx="389.4" cy="448.7" r="2.5"/><circle cx="393.0" cy="447.1" r="2.5"/><circle cx="395.2" cy="447.2" r="2.5"/><circle cx="397.2" cy="447.3" r="2.5"/><circle cx="401.1" cy="447.0" r="2.5"/><circle cx="404.2" cy="447.9" r="2.5"/><circle cx="385.0" cy="450.5" r="2.5"/><circle cx="388.3" cy="451.1" r="2.5"/><circle cx="390.3" cy="450.6" r="2.5"/><circle cx="393.6" cy="450.6" r="2.5"/><circle cx="397.0" cy="450.0" r="2.5"/><circle cx="398.6" cy="451.0" r="2.5"/><circle cx="402.7" cy="451.0" r="2.5"/><circle cx="404.7" cy="449.6" r="2.5"/><circle cx="383.9" cy="453.2" r="2.5"/><circle cx="385.6" cy="452.5" r="2.5"/><circle cx="389.2" cy="453.1" r="2.5"/><circle cx="391.2" cy="452.0" r="2.5"/><circle cx="395.4" cy="451.9" r="2.5"/><circle cx="397.1" cy="453.0" r="2.5"/><circle cx="401.3" cy="452.6" r="2.5"/><circle cx="382.0" cy="454.8" r="2.5"/><circle cx="386.1" cy="454.3" r="2.5"/><circle cx="387.6" cy="455.3" r="2.5"/><circle cx="390.8" cy="455.7" r="2.5"/><circle cx="394.1" cy="455.3" r="2.5"/><circle cx="395.8" cy="455.4" r="2.5"/><circle cx="400.0" cy="454.3" r="2.5"/><circle cx="381.2" cy="458.1" r="2.5"/><circle cx="383.5" cy="458.4" r="2.5"/><circle cx="387.5" cy="456.9" r="2.5"/><circle cx="388.3" cy="456.8" r="2.5"/><circle cx="391.7" cy="457.5" r="2.5"/><circle cx="395.1" cy="456.9" r="2.5"/><circle cx="396.7" cy="457.5" r="2.5"/><circle cx="401.3" cy="458.6" r="2.5"/><circle cx="382.5" cy="460.0" r="2.5"/><circle cx="384.3" cy="459.4" r="2.5"/><circle cx="389.0" cy="461.0" r="2.5"/><circle cx="391.6" cy="459.8" r="2.5"/><circle cx="393.3" cy="459.6" r="2.5"/><circle cx="396.7" cy="459.6" r="2.5"/><circle cx="400.1" cy="460.0" r="2.5"/><circle cx="402.5" cy="460.7" r="2.5"/><circle cx="403.7" cy="459.2" r="2.5"/><circle cx="381.8" cy="462.8" r="2.5"/><circle cx="382.9" cy="462.3" r="2.5"/><circle cx="387.0" cy="463.5" r="2.5"/><circle cx="389.9" cy="462.1" r="2.5"/><circle cx="392.8" cy="461.6" r="2.5"/><circle cx="394.3" cy="462.9" r="2.5"/><circle cx="396.8" cy="463.3" r="2.5"/><circle cx="401.1" cy="462.6" r="2.5"/><circle cx="402.9" cy="462.0" r="2.5"/><circle cx="405.0" cy="462.8" r="2.5"/><circle cx="382.4" cy="465.3" r="2.5"/><circle cx="385.1" cy="465.5" r="2.5"/><circle cx="388.4" cy="465.8" r="2.5"/><circle cx="390.3" cy="464.3" r="2.5"/><circle cx="393.0" cy="464.8" r="2.5"/><circle cx="396.3" cy="463.9" r="2.5"/><circle cx="399.3" cy="464.1" r="2.5"/><circle cx="401.4" cy="463.9" r="2.5"/><circle cx="404.1" cy="464.0" r="2.5"/><circle cx="406.7" cy="465.3" r="2.5"/><circle cx="384.2" cy="468.4" r="2.5"/><circle cx="386.8" cy="467.8" r="2.5"/><circle cx="389.8" cy="468.0" r="2.5"/><circle cx="393.0" cy="467.2" r="2.5"/><circle cx="395.4" cy="467.9" r="2.5"/><circle cx="397.4" cy="466.6" r="2.5"/><circle cx="400.4" cy="468.3" r="2.5"/><circle cx="403.4" cy="467.9" r="2.5"/><circle cx="405.3" cy="466.8" r="2.5"/><circle cx="382.2" cy="469.7" r="2.5"/><circle cx="384.6" cy="470.4" r="2.5"/><circle cx="387.7" cy="469.3" r="2.5"/><circle cx="389.7" cy="469.6" r="2.5"/><circle cx="394.3" cy="470.8" r="2.5"/><circle cx="395.9" cy="470.3" r="2.5"/><circle cx="398.9" cy="469.8" r="2.5"/><circle cx="400.9" cy="469.1" r="2.5"/><circle cx="381.4" cy="471.9" r="2.5"/><circle cx="383.3" cy="472.8" r="2.5"/><circle cx="386.6" cy="472.3" r="2.5"/><circle cx="389.1" cy="471.3" r="2.5"/><circle cx="391.9" cy="472.1" r="2.5"/><circle cx="394.6" cy="471.9" r="2.5"/><circle cx="397.8" cy="471.2" r="2.5"/><circle cx="382.8" cy="474.4" r="2.5"/><circle cx="384.7" cy="474.3" r="2.5"/><circle cx="387.9" cy="473.9" r="2.5"/><circle cx="390.8" cy="475.2" r="2.5"/><circle cx="393.5" cy="475.6" r="2.5"/><circle cx="395.4" cy="473.9" r="2.5"/><circle cx="399.2" cy="474.2" r="2.5"/><circle cx="384.0" cy="478.0" r="2.5"/><circle cx="386.0" cy="477.3" r="2.5"/><circle cx="389.6" cy="476.5" r="2.5"/><circle cx="392.0" cy="476.2" r="2.5"/><circle cx="394.2" cy="478.1" r="2.5"/><circle cx="397.9" cy="476.1" r="2.5"/><circle cx="385.0" cy="480.1" r="2.5"/><circle cx="387.8" cy="478.5" r="2.5"/><circle cx="390.2" cy="478.9" r="2.5"/><circle cx="394.5" cy="479.5" r="2.5"/><circle cx="397.3" cy="479.1" r="2.5"/><circle cx="399.0" cy="479.1" r="2.5"/><circle cx="401.1" cy="478.5" r="2.5"/><circle cx="388.3" cy="480.9" r="2.5"/><circle cx="391.5" cy="481.1" r="2.5"/><circle cx="394.5" cy="481.9" r="2.5"/><circle cx="397.6" cy="481.6" r="2.5"/><circle cx="400.2" cy="481.5" r="2.5"/><circle cx="403.0" cy="482.8" r="2.5"/><circle cx="390.5" cy="483.9" r="2.5"/><circle cx="394.5" cy="483.8" r="2.5"/><circle cx="397.1" cy="484.9" r="2.5"/><circle cx="398.2" cy="484.6" r="2.5"/><circle cx="402.2" cy="485.2" r="2.5"/><circle cx="405.0" cy="484.1" r="2.5"/><circle cx="392.8" cy="486.3" r="2.5"/><circle cx="394.8" cy="487.2" r="2.5"/><circle cx="397.5" cy="487.0" r="2.5"/><circle cx="399.6" cy="487.7" r="2.5"/><circle cx="403.8" cy="487.8" r="2.5"/><circle cx="406.1" cy="486.9" r="2.5"/><circle cx="390.7" cy="488.3" r="2.5"/><circle cx="393.9" cy="489.1" r="2.5"/><circle cx="396.8" cy="489.7" r="2.5"/><circle cx="399.4" cy="489.6" r="2.5"/><circle cx="402.9" cy="488.6" r="2.5"/><circle cx="405.7" cy="488.4" r="2.5"/><circle cx="407.0" cy="490.0" r="2.5"/><circle cx="392.3" cy="492.4" r="2.5"/><circle cx="394.9" cy="492.6" r="2.5"/><circle cx="398.5" cy="491.8" r="2.5"/><circle cx="400.9" cy="491.7" r="2.5"/><circle cx="402.5" cy="491.7" r="2.5"/><circle cx="405.3" cy="491.2" r="2.5"/><circle cx="490.6" cy="409.4" r="2.5"/><circle cx="499.0" cy="409.0" r="2.5"/><circle cx="485.4" cy="413.1" r="2.5"/><circle cx="487.4" cy="412.3" r="2.5"/><circle cx="491.8" cy="411.6" r="2.5"/><circle cx="497.2" cy="410.9" r="2.5"/><circle cx="499.5" cy="411.2" r="2.5"/><circle cx="501.7" cy="412.9" r="2.5"/><circle cx="481.9" cy="414.3" r="2.5"/><circle cx="483.7" cy="415.5" r="2.5"/><circle cx="487.3" cy="414.2" r="2.5"/><circle cx="489.8" cy="415.5" r="2.5"/><circle cx="493.6" cy="413.6" r="2.5"/><circle cx="495.2" cy="414.6" r="2.5"/><circle cx="498.6" cy="414.6" r="2.5"/><circle cx="501.1" cy="413.6" r="2.5"/><circle cx="504.3" cy="414.1" r="2.5"/><circle cx="482.2" cy="416.7" r="2.5"/><circle cx="485.6" cy="418.0" r="2.5"/><circle cx="487.4" cy="417.7" r="2.5"/><circle cx="491.6" cy="416.3" r="2.5"/><circle cx="493.2" cy="417.1" r="2.5"/><circle cx="496.9" cy="417.4" r="2.5"/><circle cx="500.8" cy="416.3" r="2.5"/><circle cx="502.0" cy="417.9" r="2.5"/><circle cx="505.3" cy="417.8" r="2.5"/><circle cx="480.7" cy="418.8" r="2.5"/><circle cx="483.2" cy="419.0" r="2.5"/><circle cx="487.7" cy="419.5" r="2.5"/><circle cx="489.0" cy="419.4" r="2.5"/><circle cx="492.4" cy="419.9" r="2.5"/><circle cx="496.2" cy="419.7" r="2.5"/><circle cx="498.2" cy="418.9" r="2.5"/><circle cx="501.5" cy="419.4" r="2.5"/><circle cx="504.3" cy="420.4" r="2.5"/><circle cx="507.7" cy="419.3" r="2.5"/><circle cx="482.5" cy="422.8" r="2.5"/><circle cx="485.1" cy="423.1" r="2.5"/><circle cx="487.3" cy="421.9" r="2.5"/><circle cx="491.3" cy="423.2" r="2.5"/><circle cx="495.0" cy="421.5" r="2.5"/><circle cx="497.9" cy="422.4" r="2.5"/><circle cx="500.0" cy="421.4" r="2.5"/><circle cx="503.3" cy="422.1" r="2.5"/><circle cx="504.7" cy="422.1" r="2.5"/><circle cx="483.1" cy="424.5" r="2.5"/><circle cx="485.9" cy="424.2" r="2.5"/><circle cx="490.1" cy="425.1" r="2.5"/><circle cx="491.9" cy="423.8" r="2.5"/><circle cx="494.6" cy="425.6" r="2.5"/><circle cx="498.7" cy="424.9" r="2.5"/><circle cx="502.3" cy="425.3" r="2.5"/><circle cx="504.3" cy="425.0" r="2.5"/><circle cx="506.8" cy="424.8" r="2.5"/><circle cx="483.4" cy="427.3" r="2.5"/><circle cx="484.9" cy="427.5" r="2.5"/><circle cx="488.9" cy="427.8" r="2.5"/><circle cx="490.4" cy="426.6" r="2.5"/><circle cx="494.3" cy="426.9" r="2.5"/><circle cx="497.2" cy="428.1" r="2.5"/><circle cx="499.8" cy="428.3" r="2.5"/><circle cx="503.0" cy="428.1" r="2.5"/><circle cx="505.2" cy="427.2" r="2.5"/><circle cx="482.0" cy="429.6" r="2.5"/><circle cx="484.5" cy="429.1" r="2.5"/><circle cx="486.8" cy="428.7" r="2.5"/><circle cx="489.3" cy="429.6" r="2.5"/><circle cx="493.6" cy="429.3" r="2.5"/><circle cx="494.6" cy="430.7" r="2.5"/><circle cx="499.4" cy="430.0" r="2.5"/><circle cx="501.5" cy="429.6" r="2.5"/><circle cx="503.1" cy="429.9" r="2.5"/><circle cx="507.3" cy="430.7" r="2.5"/><circle cx="482.7" cy="433.1" r="2.5"/><circle cx="484.3" cy="431.3" r="2.5"/><circle cx="488.8" cy="431.4" r="2.5"/><circle cx="491.3" cy="431.4" r="2.5"/><circle cx="492.9" cy="431.8" r="2.5"/><circle cx="497.1" cy="432.4" r="2.5"/><circle cx="500.3" cy="431.7" r="2.5"/><circle cx="501.6" cy="432.6" r="2.5"/><circle cx="506.0" cy="432.5" r="2.5"/><circle cx="488.8" cy="433.4" r="2.5"/><circle cx="502.2" cy="433.4" r="2.5"/><circle cx="482.3" cy="435.7" r="2.5"/><circle cx="485.3" cy="434.9" r="2.5"/><circle cx="487.9" cy="435.6" r="2.5"/><circle cx="490.2" cy="435.1" r="2.5"/><circle cx="492.6" cy="434.5" r="2.5"/><circle cx="495.9" cy="434.8" r="2.5"/><circle cx="497.8" cy="433.9" r="2.5"/><circle cx="501.6" cy="434.7" r="2.5"/><circle cx="503.8" cy="435.2" r="2.5"/><circle cx="506.0" cy="434.1" r="2.5"/><circle cx="483.9" cy="436.6" r="2.5"/><circle cx="485.8" cy="437.2" r="2.5"/><circle cx="489.0" cy="436.8" r="2.5"/><circle cx="492.1" cy="436.9" r="2.5"/><circle cx="494.0" cy="437.4" r="2.5"/><circle cx="497.4" cy="436.3" r="2.5"/><circle cx="501.1" cy="437.7" r="2.5"/><circle cx="502.6" cy="438.0" r="2.5"/><circle cx="506.1" cy="437.3" r="2.5"/><circle cx="480.6" cy="438.6" r="2.5"/><circle cx="481.8" cy="438.5" r="2.5"/><circle cx="485.1" cy="439.2" r="2.5"/><circle cx="488.1" cy="439.3" r="2.5"/><circle cx="491.6" cy="438.6" r="2.5"/><circle cx="492.9" cy="440.1" r="2.5"/><circle cx="496.2" cy="439.0" r="2.5"/><circle cx="499.1" cy="440.1" r="2.5"/><circle cx="501.9" cy="440.3" r="2.5"/><circle cx="504.3" cy="440.1" r="2.5"/><circle cx="480.6" cy="441.7" r="2.5"/><circle cx="483.4" cy="441.0" r="2.5"/><circle cx="485.9" cy="441.2" r="2.5"/><circle cx="490.2" cy="441.1" r="2.5"/><circle cx="491.1" cy="442.8" r="2.5"/><circle cx="495.6" cy="441.7" r="2.5"/><circle cx="497.8" cy="442.7" r="2.5"/><circle cx="500.3" cy="442.5" r="2.5"/><circle cx="502.9" cy="440.9" r="2.5"/><circle cx="504.6" cy="441.2" r="2.5"/><circle cx="507.6" cy="442.1" r="2.5"/><circle cx="480.5" cy="445.0" r="2.5"/><circle cx="483.1" cy="443.6" r="2.5"/><circle cx="486.1" cy="444.0" r="2.5"/><circle cx="487.3" cy="444.9" r="2.5"/><circle cx="490.2" cy="443.4" r="2.5"/><circle cx="494.2" cy="445.0" r="2.5"/><circle cx="496.5" cy="445.0" r="2.5"/><circle cx="499.2" cy="444.5" r="2.5"/><circle cx="500.7" cy="443.8" r="2.5"/><circle cx="503.3" cy="445.0" r="2.5"/><circle cx="507.7" cy="443.6" r="2.5"/><circle cx="481.2" cy="446.4" r="2.5"/><circle cx="484.1" cy="447.1" r="2.5"/><circle cx="487.5" cy="447.0" r="2.5"/><circle cx="490.3" cy="446.8" r="2.5"/><circle cx="492.8" cy="447.5" r="2.5"/><circle cx="495.7" cy="446.0" r="2.5"/><circle cx="496.5" cy="447.5" r="2.5"/><circle cx="499.6" cy="446.9" r="2.5"/><circle cx="502.4" cy="446.6" r="2.5"/><circle cx="505.8" cy="447.0" r="2.5"/><circle cx="483.0" cy="448.4" r="2.5"/><circle cx="485.5" cy="448.6" r="2.5"/><circle cx="488.5" cy="448.6" r="2.5"/><circle cx="490.7" cy="448.5" r="2.5"/><circle cx="493.9" cy="448.9" r="2.5"/><circle cx="496.0" cy="449.2" r="2.5"/><circle cx="498.4" cy="448.4" r="2.5"/><circle cx="501.2" cy="448.7" r="2.5"/><circle cx="505.2" cy="449.8" r="2.5"/><circle cx="480.4" cy="450.9" r="2.5"/><circle cx="484.5" cy="450.6" r="2.5"/><circle cx="487.0" cy="451.0" r="2.5"/><circle cx="488.8" cy="451.7" r="2.5"/><circle cx="492.5" cy="450.3" r="2.5"/><circle cx="493.9" cy="451.1" r="2.5"/><circle cx="498.3" cy="452.3" r="2.5"/><circle cx="500.4" cy="451.3" r="2.5"/><circle cx="503.1" cy="451.4" r="2.5"/><circle cx="505.6" cy="451.8" r="2.5"/><circle cx="479.9" cy="454.1" r="2.5"/><circle cx="482.0" cy="453.8" r="2.5"/><circle cx="485.6" cy="453.9" r="2.5"/><circle cx="487.6" cy="454.7" r="2.5"/><circle cx="489.9" cy="453.6" r="2.5"/><circle cx="493.9" cy="453.3" r="2.5"/><circle cx="495.1" cy="453.1" r="2.5"/><circle cx="497.9" cy="453.0" r="2.5"/><circle cx="500.8" cy="452.8" r="2.5"/><circle cx="504.4" cy="454.0" r="2.5"/><circle cx="506.9" cy="453.9" r="2.5"/><circle cx="480.8" cy="455.8" r="2.5"/><circle cx="484.3" cy="455.8" r="2.5"/><circle cx="487.0" cy="455.9" r="2.5"/><circle cx="489.8" cy="455.4" r="2.5"/><circle cx="492.1" cy="455.8" r="2.5"/><circle cx="495.5" cy="455.1" r="2.5"/><circle cx="497.8" cy="456.2" r="2.5"/><circle cx="499.3" cy="456.4" r="2.5"/><circle cx="502.4" cy="456.0" r="2.5"/><circle cx="505.9" cy="455.6" r="2.5"/><circle cx="482.2" cy="459.3" r="2.5"/><circle cx="484.8" cy="457.9" r="2.5"/><circle cx="487.3" cy="458.4" r="2.5"/><circle cx="490.6" cy="459.3" r="2.5"/><circle cx="493.8" cy="459.2" r="2.5"/><circle cx="495.6" cy="458.0" r="2.5"/><circle cx="498.8" cy="457.6" r="2.5"/><circle cx="502.0" cy="458.3" r="2.5"/><circle cx="503.9" cy="458.3" r="2.5"/><circle cx="507.7" cy="458.9" r="2.5"/><circle cx="481.2" cy="460.5" r="2.5"/><circle cx="483.4" cy="460.8" r="2.5"/><circle cx="485.6" cy="460.7" r="2.5"/><circle cx="489.7" cy="461.2" r="2.5"/><circle cx="491.3" cy="459.9" r="2.5"/><circle cx="493.9" cy="460.4" r="2.5"/><circle cx="496.7" cy="461.2" r="2.5"/><circle cx="499.8" cy="460.8" r="2.5"/><circle cx="503.6" cy="461.0" r="2.5"/><circle cx="504.9" cy="460.4" r="2.5"/><circle cx="488.4" cy="463.1" r="2.5"/><circle cx="480.0" cy="465.6" r="2.5"/><circle cx="482.9" cy="465.2" r="2.5"/><circle cx="487.0" cy="463.6" r="2.5"/><circle cx="489.4" cy="464.4" r="2.5"/><circle cx="491.4" cy="463.9" r="2.5"/><circle cx="495.0" cy="465.3" r="2.5"/><circle cx="499.3" cy="464.7" r="2.5"/><circle cx="502.4" cy="465.1" r="2.5"/><circle cx="506.0" cy="464.1" r="2.5"/><circle cx="507.1" cy="464.9" r="2.5"/><circle cx="481.5" cy="466.5" r="2.5"/><circle cx="484.7" cy="467.5" r="2.5"/><circle cx="487.1" cy="468.4" r="2.5"/><circle cx="491.3" cy="468.5" r="2.5"/><circle cx="494.8" cy="466.7" r="2.5"/><circle cx="497.3" cy="467.5" r="2.5"/><circle cx="499.1" cy="467.0" r="2.5"/><circle cx="503.9" cy="468.3" r="2.5"/><circle cx="506.2" cy="466.9" r="2.5"/><circle cx="480.2" cy="470.8" r="2.5"/><circle cx="482.9" cy="469.3" r="2.5"/><circle cx="485.3" cy="469.6" r="2.5"/><circle cx="489.2" cy="469.5" r="2.5"/><circle cx="492.9" cy="470.2" r="2.5"/><circle cx="495.8" cy="468.9" r="2.5"/><circle cx="497.5" cy="470.4" r="2.5"/><circle cx="500.9" cy="469.2" r="2.5"/><circle cx="505.1" cy="469.4" r="2.5"/><circle cx="480.7" cy="473.2" r="2.5"/><circle cx="485.4" cy="471.9" r="2.5"/><circle cx="487.7" cy="471.6" r="2.5"/><circle cx="490.5" cy="473.0" r="2.5"/><circle cx="494.3" cy="472.4" r="2.5"/><circle cx="496.2" cy="473.7" r="2.5"/><circle cx="500.7" cy="472.2" r="2.5"/><circle cx="503.4" cy="472.6" r="2.5"/><circle cx="507.2" cy="471.9" r="2.5"/><circle cx="480.6" cy="475.3" r="2.5"/><circle cx="483.8" cy="476.3" r="2.5"/><circle cx="486.7" cy="475.0" r="2.5"/><circle cx="489.2" cy="474.9" r="2.5"/><circle cx="491.3" cy="475.6" r="2.5"/><circle cx="495.6" cy="476.4" r="2.5"/><circle cx="497.8" cy="475.4" r="2.5"/><circle cx="502.9" cy="476.5" r="2.5"/><circle cx="505.0" cy="474.4" r="2.5"/><circle cx="481.4" cy="479.1" r="2.5"/><circle cx="485.2" cy="479.2" r="2.5"/><circle cx="488.1" cy="479.2" r="2.5"/><circle cx="490.7" cy="478.0" r="2.5"/><circle cx="493.5" cy="478.4" r="2.5"/><circle cx="496.5" cy="477.3" r="2.5"/><circle cx="500.0" cy="479.0" r="2.5"/><circle cx="503.4" cy="477.1" r="2.5"/><circle cx="507.4" cy="478.4" r="2.5"/><circle cx="480.7" cy="481.8" r="2.5"/><circle cx="483.7" cy="479.9" r="2.5"/><circle cx="487.1" cy="480.6" r="2.5"/><circle cx="489.4" cy="480.4" r="2.5"/><circle cx="492.4" cy="481.5" r="2.5"/><circle cx="494.9" cy="479.7" r="2.5"/><circle cx="497.5" cy="480.0" r="2.5"/><circle cx="500.9" cy="481.2" r="2.5"/><circle cx="505.1" cy="480.1" r="2.5"/><circle cx="507.7" cy="481.4" r="2.5"/><circle cx="482.5" cy="482.8" r="2.5"/><circle cx="484.8" cy="483.0" r="2.5"/><circle cx="487.4" cy="484.3" r="2.5"/><circle cx="489.9" cy="483.5" r="2.5"/><circle cx="493.2" cy="484.2" r="2.5"/><circle cx="496.7" cy="484.4" r="2.5"/><circle cx="501.2" cy="483.0" r="2.5"/><circle cx="502.7" cy="483.3" r="2.5"/><circle cx="506.3" cy="483.4" r="2.5"/><circle cx="480.8" cy="487.3" r="2.5"/><circle cx="483.3" cy="486.7" r="2.5"/><circle cx="486.2" cy="487.3" r="2.5"/><circle cx="489.1" cy="486.5" r="2.5"/><circle cx="491.4" cy="487.3" r="2.5"/><circle cx="495.9" cy="485.7" r="2.5"/><circle cx="497.8" cy="485.4" r="2.5"/><circle cx="500.6" cy="485.5" r="2.5"/><circle cx="504.3" cy="487.0" r="2.5"/></g>
<line x1="349.1" y1="370.9" x2="349.1" y2="569.2" stroke="#3a3a3a" stroke-width="1.2"/>
<line x1="348.5" y1="568.7" x2="539" y2="568.7" stroke="#3a3a3a" stroke-width="1.2"/>
<line x1="345.1" y1="568.7" x2="349.1" y2="568.7" stroke="#3a3a3a" stroke-width="1"/>
<text x="343.6" y="572.6" font-family="Liberation Sans, sans-serif" font-size="11" font-weight="normal" text-anchor="end" fill="#1a1a1a" stroke="#1a1a1a" stroke-width="0.35">0</text>
<line x1="345.1" y1="541.8" x2="349.1" y2="541.8" stroke="#3a3a3a" stroke-width="1"/>
<text x="343.6" y="545.7" font-family="Liberation Sans, sans-serif" font-size="11" font-weight="normal" text-anchor="end" fill="#1a1a1a" stroke="#1a1a1a" stroke-width="0.35">2</text>
<line x1="345.1" y1="514.9" x2="349.1" y2="514.9" stroke="#3a3a3a" stroke-width="1"/>
<text x="343.6" y="518.8" font-family="Liberation Sans, sans-serif" font-size="11" font-weight="normal" text-anchor="end" fill="#1a1a1a" stroke="#1a1a1a" stroke-width="0.35">4</text>
<line x1="345.1" y1="488.0" x2="349.1" y2="488.0" stroke="#3a3a3a" stroke-width="1"/>
<text x="343.6" y="491.9" font-family="Liberation Sans, sans-serif" font-size="11" font-weight="normal" text-anchor="end" fill="#1a1a1a" stroke="#1a1a1a" stroke-width="0.35">6</text>
<line x1="345.1" y1="461.1" x2="349.1" y2="461.1" stroke="#3a3a3a" stroke-width="1"/>
<text x="343.6" y="465.0" font-family="Liberation Sans, sans-serif" font-size="11" font-weight="normal" text-anchor="end" fill="#1a1a1a" stroke="#1a1a1a" stroke-width="0.35">8</text>
<line x1="345.1" y1="434.2" x2="349.1" y2="434.2" stroke="#3a3a3a" stroke-width="1"/>
<text x="343.6" y="438.1" font-family="Liberation Sans, sans-serif" font-size="11" font-weight="normal" text-anchor="end" fill="#1a1a1a" stroke="#1a1a1a" stroke-width="0.35">10</text>
<line x1="345.1" y1="407.3" x2="349.1" y2="407.3" stroke="#3a3a3a" stroke-width="1"/>
<text x="343.6" y="411.2" font-family="Liberation Sans, sans-serif" font-size="11" font-weight="normal" text-anchor="end" fill="#1a1a1a" stroke="#1a1a1a" stroke-width="0.35">12</text>
<line x1="345.1" y1="380.4" x2="349.1" y2="380.4" stroke="#3a3a3a" stroke-width="1"/>
<text x="343.6" y="384.3" font-family="Liberation Sans, sans-serif" font-size="11" font-weight="normal" text-anchor="end" fill="#1a1a1a" stroke="#1a1a1a" stroke-width="0.35">14</text>
<line x1="394.2" y1="568.7" x2="394.2" y2="571.2" stroke="#3a3a3a" stroke-width="1"/>
<line x1="494.2" y1="568.7" x2="494.2" y2="571.2" stroke="#3a3a3a" stroke-width="1"/>
<text x="383.6" y="584.0" font-family="Liberation Sans, sans-serif" font-size="11.3" font-weight="normal" text-anchor="start" fill="#1a1a1a" textLength="18.6" lengthAdjust="spacingAndGlyphs" stroke="#1a1a1a" stroke-width="0.45">CP4</text>
<text x="478.0" y="583.0" font-family="Liberation Sans, sans-serif" font-size="11.3" font-weight="normal" text-anchor="start" fill="#1a1a1a" textLength="43.6" lengthAdjust="spacingAndGlyphs" stroke="#1a1a1a" stroke-width="0.45">Non-CP4</text>
<text x="428.6" y="617.2" font-family="Liberation Sans, sans-serif" font-size="11.5" font-weight="normal" text-anchor="start" fill="#1a1a1a" textLength="31.9" lengthAdjust="spacingAndGlyphs">Group</text>
<text x="407.0" y="639.5" font-family="Liberation Serif, sans-serif" font-size="10.5" font-weight="bold" text-anchor="start" fill="#1a1a1a" textLength="11.7" lengthAdjust="spacingAndGlyphs">(f)</text>
<text x="400.0" y="349.8" font-family="Liberation Sans, sans-serif" font-size="8.2" font-weight="normal" text-anchor="start" fill="#1a1a1a" textLength="71.0" lengthAdjust="spacingAndGlyphs">p-Value: 2.62 × 10</text>
<text x="471.3" y="346.1" font-family="Liberation Sans, sans-serif" font-size="5.739999999999999" font-weight="normal" text-anchor="start" fill="#1a1a1a" textLength="5.2" lengthAdjust="spacingAndGlyphs">-8</text>
<text x="400.0" y="363.0" font-family="Liberation Sans, sans-serif" font-size="8.2" font-weight="normal" text-anchor="start" fill="#1a1a1a" textLength="77.0" lengthAdjust="spacingAndGlyphs">q-Value: 2.981 × 10</text>
<text x="477.3" y="359.3" font-family="Liberation Sans, sans-serif" font-size="5.739999999999999" font-weight="normal" text-anchor="start" fill="#1a1a1a" textLength="5.8" lengthAdjust="spacingAndGlyphs">-6</text>
<text transform="translate(302,594.5) rotate(-90)" x="0" y="0" font-family="Liberation Sans, sans-serif" font-size="12" fill="#1a1a1a" stroke="#1a1a1a" stroke-width="0.15" textLength="248.5" lengthAdjust="spacingAndGlyphs">KRT14, mRNA expression (RNA Seq V2 RSEM)</text>
<text transform="translate(312,484.3) rotate(-90)" x="0" y="0" font-family="Liberation Sans, sans-serif" font-size="12" fill="#1a1a1a" stroke="#1a1a1a" stroke-width="0.15" textLength="28.3" lengthAdjust="spacingAndGlyphs">(log2)</text>
</svg></body></html>
